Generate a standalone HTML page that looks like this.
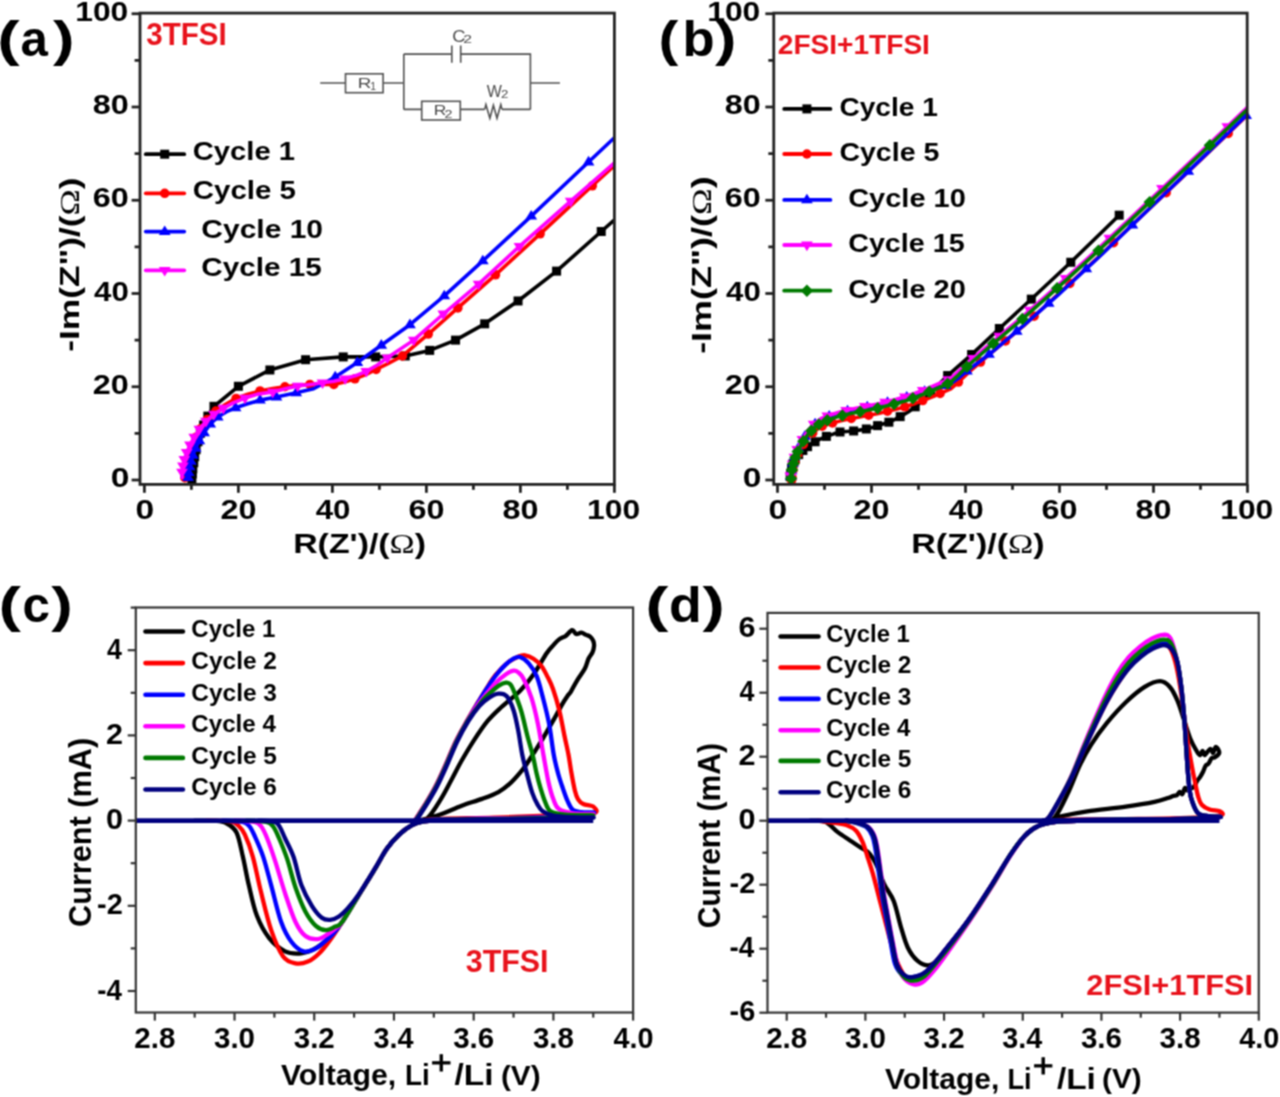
<!DOCTYPE html>
<html><head><meta charset="utf-8"><title>EIS and CV</title>
<style>html,body{margin:0;padding:0;background:#fff;width:1280px;height:1097px;overflow:hidden}
text{font-family:"Liberation Sans",sans-serif}</style></head>
<body>
<svg width="1280" height="1097" viewBox="0 0 1280 1097" style="display:block">
<defs><filter id="soft" x="0" y="0" width="1280" height="1097" filterUnits="userSpaceOnUse" color-interpolation-filters="sRGB"><feConvolveMatrix order="3" kernelMatrix="1 2 1 2 4 2 1 2 1" divisor="16" edgeMode="duplicate"/></filter></defs>
<g filter="url(#soft)">
<rect width="1280" height="1097" fill="#ffffff"/>
<clipPath id="cA"><rect x="140" y="13.1" width="474.4" height="471.3"/></clipPath>
<polyline points="191.87,478.6 192.34,473.94 192.81,468.81 193.75,462.75 194.69,456.69 196.1,449.69 197.98,441.77 200.33,433.38 203.62,424.98 207.85,416.12 213.96,406.33 238.4,386.28 269.89,369.97 305.61,359.71 343.21,356.91 375.64,356.91 405.25,355.98 429.69,350.38 455.54,340.12 484.68,323.81 518.05,300.96 556.59,271.12 601.24,231.49 642.6,195.12" fill="none" stroke="#000000" stroke-width="3.6" stroke-linejoin="round" stroke-linecap="round" clip-path="url(#cA)"/>
<rect x="187.37" y="474.1" width="9" height="9" fill="#000000"/>
<rect x="187.84" y="469.44" width="9" height="9" fill="#000000"/>
<rect x="188.31" y="464.31" width="9" height="9" fill="#000000"/>
<rect x="189.25" y="458.25" width="9" height="9" fill="#000000"/>
<rect x="190.19" y="452.19" width="9" height="9" fill="#000000"/>
<rect x="191.6" y="445.19" width="9" height="9" fill="#000000"/>
<rect x="193.48" y="437.27" width="9" height="9" fill="#000000"/>
<rect x="195.83" y="428.88" width="9" height="9" fill="#000000"/>
<rect x="199.12" y="420.48" width="9" height="9" fill="#000000"/>
<rect x="203.35" y="411.62" width="9" height="9" fill="#000000"/>
<rect x="209.46" y="401.83" width="9" height="9" fill="#000000"/>
<rect x="233.9" y="381.78" width="9" height="9" fill="#000000"/>
<rect x="265.39" y="365.47" width="9" height="9" fill="#000000"/>
<rect x="301.11" y="355.21" width="9" height="9" fill="#000000"/>
<rect x="338.71" y="352.41" width="9" height="9" fill="#000000"/>
<rect x="371.14" y="352.41" width="9" height="9" fill="#000000"/>
<rect x="400.75" y="351.48" width="9" height="9" fill="#000000"/>
<rect x="425.19" y="345.88" width="9" height="9" fill="#000000"/>
<rect x="451.04" y="335.62" width="9" height="9" fill="#000000"/>
<rect x="480.18" y="319.31" width="9" height="9" fill="#000000"/>
<rect x="513.55" y="296.46" width="9" height="9" fill="#000000"/>
<rect x="552.09" y="266.62" width="9" height="9" fill="#000000"/>
<rect x="596.74" y="226.99" width="9" height="9" fill="#000000"/>
<polyline points="184.82,477.67 185.29,472.54 186.23,466.48 187.64,459.95 189.52,452.96 192.34,445.5 196.1,437.11 200.8,428.71 207.38,419.39 215.84,411 225.24,404.47 236.05,398.41 247.8,394.21 260.02,390.95 272.71,388.62 284.93,386.75 297.62,385.35 309.84,384.42 322.06,384.42 333.81,384.42 344.62,382.09 354.96,378.82 365.77,374.63 376.11,369.5 388.33,363.44 402.43,355.98 428.28,334.06 457.89,307.95 495.49,274.85 540.14,233.82 592.31,185.8 642.6,139.64" fill="none" stroke="#ff0000" stroke-width="3.6" stroke-linejoin="round" stroke-linecap="round" clip-path="url(#cA)"/>
<circle cx="184.82" cy="477.67" r="4.73" fill="#ff0000"/>
<circle cx="185.29" cy="472.54" r="4.73" fill="#ff0000"/>
<circle cx="186.23" cy="466.48" r="4.73" fill="#ff0000"/>
<circle cx="187.64" cy="459.95" r="4.73" fill="#ff0000"/>
<circle cx="189.52" cy="452.96" r="4.73" fill="#ff0000"/>
<circle cx="192.34" cy="445.5" r="4.73" fill="#ff0000"/>
<circle cx="196.1" cy="437.11" r="4.73" fill="#ff0000"/>
<circle cx="200.8" cy="428.71" r="4.73" fill="#ff0000"/>
<circle cx="207.38" cy="419.39" r="4.73" fill="#ff0000"/>
<circle cx="215.84" cy="411" r="4.73" fill="#ff0000"/>
<circle cx="236.05" cy="398.41" r="4.73" fill="#ff0000"/>
<circle cx="260.02" cy="390.95" r="4.73" fill="#ff0000"/>
<circle cx="284.93" cy="386.75" r="4.73" fill="#ff0000"/>
<circle cx="309.84" cy="384.42" r="4.73" fill="#ff0000"/>
<circle cx="333.81" cy="384.42" r="4.73" fill="#ff0000"/>
<circle cx="354.96" cy="378.82" r="4.73" fill="#ff0000"/>
<circle cx="376.11" cy="369.5" r="4.73" fill="#ff0000"/>
<circle cx="402.43" cy="355.98" r="4.73" fill="#ff0000"/>
<circle cx="428.28" cy="334.06" r="4.73" fill="#ff0000"/>
<circle cx="457.89" cy="307.95" r="4.73" fill="#ff0000"/>
<circle cx="495.49" cy="274.85" r="4.73" fill="#ff0000"/>
<circle cx="540.14" cy="233.82" r="4.73" fill="#ff0000"/>
<circle cx="592.31" cy="185.8" r="4.73" fill="#ff0000"/>
<polyline points="188.11,477.67 188.58,472.54 189.52,466.94 190.93,461.35 192.81,455.29 195.63,448.3 199.39,440.83 204.09,432.72 210.2,424.05 217.72,417.06 226.18,411.93 235.58,407.73 246.86,404 260.02,400.12 276.47,397.09 296.21,392.75 313.6,388.73 335.22,376.96 357.31,362.5 381.28,345.25 409.95,324.74 444.26,295.83 482.8,260.86 531.21,216.1 588.55,162.02 642.6,111.2" fill="none" stroke="#0000ff" stroke-width="3.6" stroke-linejoin="round" stroke-linecap="round" clip-path="url(#cA)"/>
<polygon points="188.11,471.47 182.22,481.08 194,481.08" fill="#0000ff"/>
<polygon points="188.58,466.34 182.69,475.95 194.47,475.95" fill="#0000ff"/>
<polygon points="189.52,460.75 183.63,470.36 195.41,470.36" fill="#0000ff"/>
<polygon points="190.93,455.15 185.04,464.76 196.82,464.76" fill="#0000ff"/>
<polygon points="192.81,449.09 186.92,458.7 198.7,458.7" fill="#0000ff"/>
<polygon points="195.63,442.1 189.74,451.71 201.52,451.71" fill="#0000ff"/>
<polygon points="199.39,434.63 193.5,444.25 205.28,444.25" fill="#0000ff"/>
<polygon points="204.09,426.52 198.2,436.13 209.98,436.13" fill="#0000ff"/>
<polygon points="210.2,417.85 204.31,427.46 216.09,427.46" fill="#0000ff"/>
<polygon points="217.72,410.86 211.83,420.47 223.61,420.47" fill="#0000ff"/>
<polygon points="235.58,401.53 229.69,411.14 241.47,411.14" fill="#0000ff"/>
<polygon points="260.02,393.92 254.13,403.53 265.91,403.53" fill="#0000ff"/>
<polygon points="276.47,390.89 270.58,400.5 282.36,400.5" fill="#0000ff"/>
<polygon points="296.21,386.55 290.32,396.16 302.1,396.16" fill="#0000ff"/>
<polygon points="335.22,370.76 329.33,380.37 341.11,380.37" fill="#0000ff"/>
<polygon points="357.31,356.31 351.42,365.92 363.2,365.92" fill="#0000ff"/>
<polygon points="381.28,339.05 375.39,348.66 387.17,348.66" fill="#0000ff"/>
<polygon points="409.95,318.54 404.06,328.15 415.84,328.15" fill="#0000ff"/>
<polygon points="444.26,289.63 438.37,299.24 450.15,299.24" fill="#0000ff"/>
<polygon points="482.8,254.66 476.91,264.27 488.69,264.27" fill="#0000ff"/>
<polygon points="531.21,209.9 525.32,219.51 537.1,219.51" fill="#0000ff"/>
<polygon points="588.55,155.82 582.66,165.43 594.44,165.43" fill="#0000ff"/>
<polyline points="182,477.67 182,472.07 182.94,466.01 184.35,459.49 186.7,452.49 189.99,445.03 194.22,437.11 199.39,429.18 205.97,421.25 213.96,414.26 223.36,408.2 233.7,402.6 244.98,398.06 257.67,394.1 272.71,392.05 285.4,388.85 297.62,386.05 310.31,384.5 322.53,382.8 333.81,381.16 345.09,378.82 355.9,375.56 366.24,371.36 377.05,365.3 387.39,357.84 413.71,340.12 443.32,314.01 478.57,284.18 519.46,246.41 570.69,201.18 642.6,138.24" fill="none" stroke="#ff00ff" stroke-width="3.6" stroke-linejoin="round" stroke-linecap="round" clip-path="url(#cA)"/>
<polygon points="182,478.27 176.11,468.66 187.89,468.66" fill="#ff00ff"/>
<polygon points="182.94,472.21 177.05,462.6 188.83,462.6" fill="#ff00ff"/>
<polygon points="184.35,465.69 178.46,456.07 190.24,456.07" fill="#ff00ff"/>
<polygon points="186.7,458.69 180.81,449.08 192.59,449.08" fill="#ff00ff"/>
<polygon points="189.99,451.23 184.1,441.62 195.88,441.62" fill="#ff00ff"/>
<polygon points="194.22,443.31 188.33,433.69 200.11,433.69" fill="#ff00ff"/>
<polygon points="199.39,435.38 193.5,425.77 205.28,425.77" fill="#ff00ff"/>
<polygon points="205.97,427.45 200.08,417.84 211.86,417.84" fill="#ff00ff"/>
<polygon points="213.96,420.46 208.07,410.85 219.85,410.85" fill="#ff00ff"/>
<polygon points="223.36,414.4 217.47,404.79 229.25,404.79" fill="#ff00ff"/>
<polygon points="244.98,404.26 239.09,394.65 250.87,394.65" fill="#ff00ff"/>
<polygon points="272.71,398.25 266.82,388.64 278.6,388.64" fill="#ff00ff"/>
<polygon points="297.62,392.25 291.73,382.64 303.51,382.64" fill="#ff00ff"/>
<polygon points="322.53,389 316.64,379.39 328.42,379.39" fill="#ff00ff"/>
<polygon points="345.09,385.02 339.2,375.41 350.98,375.41" fill="#ff00ff"/>
<polygon points="366.24,377.56 360.35,367.95 372.13,367.95" fill="#ff00ff"/>
<polygon points="387.39,364.04 381.5,354.43 393.28,354.43" fill="#ff00ff"/>
<polygon points="413.71,346.32 407.82,336.71 419.6,336.71" fill="#ff00ff"/>
<polygon points="443.32,320.21 437.43,310.6 449.21,310.6" fill="#ff00ff"/>
<polygon points="478.57,290.38 472.68,280.76 484.46,280.76" fill="#ff00ff"/>
<polygon points="519.46,252.61 513.57,243 525.35,243" fill="#ff00ff"/>
<polygon points="570.69,207.38 564.8,197.77 576.58,197.77" fill="#ff00ff"/>
<rect x="140" y="13.1" width="474.4" height="471.3" fill="none" stroke="#222222" stroke-width="2.8"/>
<line x1="144.4" y1="484.4" x2="144.4" y2="492.8" stroke="#222222" stroke-width="2.8" stroke-linecap="butt"/>
<line x1="131.6" y1="480" x2="140" y2="480" stroke="#222222" stroke-width="2.8" stroke-linecap="butt"/>
<line x1="191.4" y1="484.4" x2="191.4" y2="489.8" stroke="#222222" stroke-width="2.8" stroke-linecap="butt"/>
<line x1="134.6" y1="433.38" x2="140" y2="433.38" stroke="#222222" stroke-width="2.8" stroke-linecap="butt"/>
<line x1="238.4" y1="484.4" x2="238.4" y2="492.8" stroke="#222222" stroke-width="2.8" stroke-linecap="butt"/>
<line x1="131.6" y1="386.75" x2="140" y2="386.75" stroke="#222222" stroke-width="2.8" stroke-linecap="butt"/>
<line x1="285.4" y1="484.4" x2="285.4" y2="489.8" stroke="#222222" stroke-width="2.8" stroke-linecap="butt"/>
<line x1="134.6" y1="340.12" x2="140" y2="340.12" stroke="#222222" stroke-width="2.8" stroke-linecap="butt"/>
<line x1="332.4" y1="484.4" x2="332.4" y2="492.8" stroke="#222222" stroke-width="2.8" stroke-linecap="butt"/>
<line x1="131.6" y1="293.5" x2="140" y2="293.5" stroke="#222222" stroke-width="2.8" stroke-linecap="butt"/>
<line x1="379.4" y1="484.4" x2="379.4" y2="489.8" stroke="#222222" stroke-width="2.8" stroke-linecap="butt"/>
<line x1="134.6" y1="246.88" x2="140" y2="246.88" stroke="#222222" stroke-width="2.8" stroke-linecap="butt"/>
<line x1="426.4" y1="484.4" x2="426.4" y2="492.8" stroke="#222222" stroke-width="2.8" stroke-linecap="butt"/>
<line x1="131.6" y1="200.25" x2="140" y2="200.25" stroke="#222222" stroke-width="2.8" stroke-linecap="butt"/>
<line x1="473.4" y1="484.4" x2="473.4" y2="489.8" stroke="#222222" stroke-width="2.8" stroke-linecap="butt"/>
<line x1="134.6" y1="153.62" x2="140" y2="153.62" stroke="#222222" stroke-width="2.8" stroke-linecap="butt"/>
<line x1="520.4" y1="484.4" x2="520.4" y2="492.8" stroke="#222222" stroke-width="2.8" stroke-linecap="butt"/>
<line x1="131.6" y1="107" x2="140" y2="107" stroke="#222222" stroke-width="2.8" stroke-linecap="butt"/>
<line x1="567.4" y1="484.4" x2="567.4" y2="489.8" stroke="#222222" stroke-width="2.8" stroke-linecap="butt"/>
<line x1="134.6" y1="60.38" x2="140" y2="60.38" stroke="#222222" stroke-width="2.8" stroke-linecap="butt"/>
<line x1="614.4" y1="484.4" x2="614.4" y2="492.8" stroke="#222222" stroke-width="2.8" stroke-linecap="butt"/>
<line x1="131.6" y1="13.75" x2="140" y2="13.75" stroke="#222222" stroke-width="2.8" stroke-linecap="butt"/>
<clipPath id="cB"><rect x="773.75" y="13.1" width="473.45" height="471.3"/></clipPath>
<polyline points="790.19,476.74 791.13,469.74 793.01,463.68 795.83,458.09 799.59,453.42 804.76,448.76 810.4,444.56 817.45,440.37 826.85,436.17 833.9,433.84 840.01,431.98 846.59,431.51 853.17,431.04 859.28,430.11 865.39,429.18 871.5,427.78 876.67,425.92 882.78,424.05 888.89,422.19 895,419.39 901.11,416.12 908.16,411.93 915.21,406.8 930.25,393.28 947.64,375.56 972.08,354.11 998.87,328.94 1030.36,300.03 1070.78,262.26 1119.19,215.17" fill="none" stroke="#000000" stroke-width="3.6" stroke-linejoin="round" stroke-linecap="round" clip-path="url(#cB)"/>
<rect x="785.69" y="472.24" width="9" height="9" fill="#000000"/>
<rect x="786.16" y="468.74" width="9" height="9" fill="#000000"/>
<rect x="787.1" y="463.73" width="9" height="9" fill="#000000"/>
<rect x="788.51" y="459.18" width="9" height="9" fill="#000000"/>
<rect x="790.86" y="454.52" width="9" height="9" fill="#000000"/>
<rect x="794.15" y="450.09" width="9" height="9" fill="#000000"/>
<rect x="798.38" y="445.96" width="9" height="9" fill="#000000"/>
<rect x="803.08" y="442.16" width="9" height="9" fill="#000000"/>
<rect x="810.6" y="437.27" width="9" height="9" fill="#000000"/>
<rect x="821.88" y="431.88" width="9" height="9" fill="#000000"/>
<rect x="835.51" y="427.48" width="9" height="9" fill="#000000"/>
<rect x="849.14" y="426.47" width="9" height="9" fill="#000000"/>
<rect x="861.83" y="424.46" width="9" height="9" fill="#000000"/>
<rect x="873.11" y="421.13" width="9" height="9" fill="#000000"/>
<rect x="884.39" y="417.69" width="9" height="9" fill="#000000"/>
<rect x="895.67" y="412.13" width="9" height="9" fill="#000000"/>
<rect x="910.71" y="402.3" width="9" height="9" fill="#000000"/>
<rect x="926.22" y="388.3" width="9" height="9" fill="#000000"/>
<rect x="943.14" y="371.06" width="9" height="9" fill="#000000"/>
<rect x="967.11" y="350.02" width="9" height="9" fill="#000000"/>
<rect x="994.84" y="324" width="9" height="9" fill="#000000"/>
<rect x="1026.8" y="294.65" width="9" height="9" fill="#000000"/>
<rect x="1066.28" y="257.76" width="9" height="9" fill="#000000"/>
<rect x="1114.69" y="210.67" width="9" height="9" fill="#000000"/>
<polyline points="791.84,480.21 792.3,474.64 793.25,468.62 795.12,461.72 797.95,454.4 803.12,444.87 808.75,436.83 814.87,430.81 821.91,426.26 831.32,423.31 840.72,420.87 850.12,418.66 859.51,416.91 868.91,415.17 878.32,413.43 887.72,411.22 897.12,409.01 906.51,406.33 915.91,403.19 925.32,399.58 934.25,395.97 942.71,392.35 950.7,388.77 959.62,381.02 968.56,372.34 980.77,361.86 993,351.38 1023.55,325.83 1058.33,294.02 1099.22,256.43 1150.45,207.64 1210.61,150.4 1276.4,87.06" fill="none" stroke="#ff0000" stroke-width="3.6" stroke-linejoin="round" stroke-linecap="round" clip-path="url(#cB)"/>
<circle cx="791.6" cy="480.21" r="4.73" fill="#ff0000"/>
<circle cx="792.07" cy="477.42" r="4.73" fill="#ff0000"/>
<circle cx="793.01" cy="470.13" r="4.73" fill="#ff0000"/>
<circle cx="794.89" cy="462.59" r="4.73" fill="#ff0000"/>
<circle cx="797.71" cy="455.01" r="4.73" fill="#ff0000"/>
<circle cx="803.35" cy="444.53" r="4.73" fill="#ff0000"/>
<circle cx="812.75" cy="432.9" r="4.73" fill="#ff0000"/>
<circle cx="822.15" cy="426.19" r="4.73" fill="#ff0000"/>
<circle cx="832.49" cy="423.01" r="4.73" fill="#ff0000"/>
<circle cx="851.29" cy="418.44" r="4.73" fill="#ff0000"/>
<circle cx="868.68" cy="415.21" r="4.73" fill="#ff0000"/>
<circle cx="887.48" cy="411.27" r="4.73" fill="#ff0000"/>
<circle cx="904.87" cy="406.8" r="4.73" fill="#ff0000"/>
<circle cx="922.73" cy="400.57" r="4.73" fill="#ff0000"/>
<circle cx="940.12" cy="393.45" r="4.73" fill="#ff0000"/>
<circle cx="958.45" cy="382.04" r="4.73" fill="#ff0000"/>
<circle cx="980.54" cy="362.06" r="4.73" fill="#ff0000"/>
<circle cx="1005.45" cy="340.96" r="4.73" fill="#ff0000"/>
<circle cx="1034.12" cy="316.16" r="4.73" fill="#ff0000"/>
<circle cx="1069.84" cy="283.44" r="4.73" fill="#ff0000"/>
<circle cx="1113.55" cy="242.78" r="4.73" fill="#ff0000"/>
<circle cx="1166.19" cy="192.66" r="4.73" fill="#ff0000"/>
<circle cx="1228.23" cy="133.43" r="4.73" fill="#ff0000"/>
<polyline points="791.13,476.53 791.6,470.91 792.54,464.8 794.42,457.71 797.24,450.11 802.41,440.07 808.05,431.39 814.16,424.56 821.21,419.39 830.61,415.66 840.01,412.86 849.41,410.53 858.81,408.66 868.21,406.8 877.61,404.93 887.01,402.6 896.41,400.27 905.81,397.47 915.21,394.21 924.61,391.46 933.54,389.17 942,386.81 949.99,384.37 958.92,377.82 967.85,370.23 980.07,361.24 992.29,351.78 1022.84,326.14 1057.62,295.37 1098.51,257.52 1149.74,208.32 1209.9,150.6 1275.7,86.75" fill="none" stroke="#0000ff" stroke-width="3.6" stroke-linejoin="round" stroke-linecap="round" clip-path="url(#cB)"/>
<polygon points="790.89,470.33 785,479.94 796.78,479.94" fill="#0000ff"/>
<polygon points="791.6,464.71 785.71,474.32 797.49,474.32" fill="#0000ff"/>
<polygon points="793.01,456.83 787.12,466.44 798.9,466.44" fill="#0000ff"/>
<polygon points="794.89,450.25 789,459.86 800.78,459.86" fill="#0000ff"/>
<polygon points="798.18,442.09 792.29,451.7 804.07,451.7" fill="#0000ff"/>
<polygon points="804.76,430.25 798.87,439.86 810.65,439.86" fill="#0000ff"/>
<polygon points="815.1,417.67 809.21,427.28 820.99,427.28" fill="#0000ff"/>
<polygon points="829.2,410.02 823.31,419.63 835.09,419.63" fill="#0000ff"/>
<polygon points="847.53,404.8 841.64,414.41 853.42,414.41" fill="#0000ff"/>
<polygon points="867.27,400.79 861.38,410.4 873.16,410.4" fill="#0000ff"/>
<polygon points="887.48,396.29 881.59,405.9 893.37,405.9" fill="#0000ff"/>
<polygon points="906.75,390.95 900.86,400.56 912.64,400.56" fill="#0000ff"/>
<polygon points="924.61,385.26 918.72,394.87 930.5,394.87" fill="#0000ff"/>
<polygon points="945.76,379.46 939.87,389.07 951.65,389.07" fill="#0000ff"/>
<polygon points="966.91,364.83 961.02,374.44 972.8,374.44" fill="#0000ff"/>
<polygon points="989,348.13 983.11,357.74 994.89,357.74" fill="#0000ff"/>
<polygon points="1016.73,325.07 1010.84,334.68 1022.62,334.68" fill="#0000ff"/>
<polygon points="1048.69,297.07 1042.8,306.68 1054.58,306.68" fill="#0000ff"/>
<polygon points="1086.29,262.63 1080.4,272.24 1092.18,272.24" fill="#0000ff"/>
<polygon points="1132.35,218.82 1126.46,228.43 1138.24,228.43" fill="#0000ff"/>
<polygon points="1188.28,165.15 1182.39,174.76 1194.17,174.76" fill="#0000ff"/>
<polygon points="1246.09,109.28 1240.2,118.89 1251.98,118.89" fill="#0000ff"/>
<polyline points="791.13,475.89 791.6,470.27 792.54,464.15 794.42,457.04 797.24,449.4 802.41,439.29 808.05,430.55 814.16,423.64 821.21,418.45 830.61,414.73 840.01,411.93 849.41,409.6 858.81,407.73 868.21,405.87 877.61,404 887.01,401.67 896.41,399.34 905.81,396.54 915.21,393.28 924.61,389.55 933.54,385.82 942,382.26 949.99,378.82 958.92,371.21 967.85,362.67 980.07,352.39 992.29,342 1022.84,316.4 1057.62,285.68 1098.51,248.44 1149.74,200.03 1209.9,143.24 1275.7,80.4" fill="none" stroke="#ff00ff" stroke-width="3.6" stroke-linejoin="round" stroke-linecap="round" clip-path="url(#cB)"/>
<polygon points="790.42,482.09 784.53,472.48 796.31,472.48" fill="#ff00ff"/>
<polygon points="791.13,482.09 785.24,472.48 797.02,472.48" fill="#ff00ff"/>
<polygon points="792.54,470.35 786.65,460.74 798.43,460.74" fill="#ff00ff"/>
<polygon points="794.42,463.24 788.53,453.63 800.31,453.63" fill="#ff00ff"/>
<polygon points="797.24,455.6 791.35,445.99 803.13,445.99" fill="#ff00ff"/>
<polygon points="802.41,445.49 796.52,435.88 808.3,435.88" fill="#ff00ff"/>
<polygon points="813.69,430.37 807.8,420.76 819.58,420.76" fill="#ff00ff"/>
<polygon points="827.32,422.23 821.43,412.62 833.21,412.62" fill="#ff00ff"/>
<polygon points="846.12,416.61 840.23,407 852.01,407" fill="#ff00ff"/>
<polygon points="864.92,412.72 859.03,403.11 870.81,403.11" fill="#ff00ff"/>
<polygon points="885.13,408.34 879.24,398.73 891.02,398.73" fill="#ff00ff"/>
<polygon points="904.87,403.02 898.98,393.41 910.76,393.41" fill="#ff00ff"/>
<polygon points="922.73,396.49 916.84,386.88 928.62,386.88" fill="#ff00ff"/>
<polygon points="948.11,385.83 942.22,376.22 954,376.22" fill="#ff00ff"/>
<polygon points="973.02,364.52 967.13,354.91 978.91,354.91" fill="#ff00ff"/>
<polygon points="999.34,342.29 993.45,332.68 1005.23,332.68" fill="#ff00ff"/>
<polygon points="1029.89,316.37 1024,306.76 1035.78,306.76" fill="#ff00ff"/>
<polygon points="1065.61,284.6 1059.72,274.99 1071.5,274.99" fill="#ff00ff"/>
<polygon points="1109.32,244.43 1103.43,234.82 1115.21,234.82" fill="#ff00ff"/>
<polygon points="1161.96,194.69 1156.07,185.08 1167.85,185.08" fill="#ff00ff"/>
<polygon points="1227.29,132.83 1221.4,123.22 1233.18,123.22" fill="#ff00ff"/>
<polyline points="791.13,478.6 791.6,473.01 792.54,466.94 794.42,459.95 797.24,452.49 802.41,442.7 808.05,434.31 814.16,427.78 821.21,422.65 830.61,418.92 840.01,416.12 849.41,413.79 858.81,411.93 868.21,410.06 877.61,408.2 887.01,405.87 896.41,403.54 905.81,400.74 915.21,397.47 924.61,393.74 933.54,390.01 942,386.28 949.99,382.55 958.92,374.63 967.85,365.77 980.07,355.05 992.29,344.32 1022.84,318.68 1057.62,287.9 1098.51,250.61 1149.74,202.12 1209.9,145.23 1275.7,82.29" fill="none" stroke="#007a00" stroke-width="3.6" stroke-linejoin="round" stroke-linecap="round" clip-path="url(#cB)"/>
<polygon points="791.13,472.4 797.33,478.6 791.13,484.8 784.93,478.6" fill="#007a00"/>
<polygon points="792.07,463.78 798.27,469.98 792.07,476.18 785.87,469.98" fill="#007a00"/>
<polygon points="793.48,457.25 799.68,463.45 793.48,469.65 787.28,463.45" fill="#007a00"/>
<polygon points="795.36,451.26 801.56,457.46 795.36,463.66 789.16,457.46" fill="#007a00"/>
<polygon points="797.71,445.4 803.91,451.6 797.71,457.8 791.51,451.6" fill="#007a00"/>
<polygon points="803.35,435.1 809.55,441.3 803.35,447.5 797.15,441.3" fill="#007a00"/>
<polygon points="811.34,424.59 817.54,430.79 811.34,436.99 805.14,430.79" fill="#007a00"/>
<polygon points="818.86,418.16 825.06,424.36 818.86,430.56 812.66,424.36" fill="#007a00"/>
<polygon points="827.32,414.03 833.52,420.23 827.32,426.43 821.12,420.23" fill="#007a00"/>
<polygon points="842.36,409.34 848.56,415.54 842.36,421.74 836.16,415.54" fill="#007a00"/>
<polygon points="860.22,405.45 866.42,411.65 860.22,417.85 854.02,411.65" fill="#007a00"/>
<polygon points="877.61,402 883.81,408.2 877.61,414.4 871.41,408.2" fill="#007a00"/>
<polygon points="894.06,397.92 900.26,404.12 894.06,410.32 887.86,404.12" fill="#007a00"/>
<polygon points="912.86,392.09 919.06,398.29 912.86,404.49 906.66,398.29" fill="#007a00"/>
<polygon points="929.31,385.58 935.51,391.78 929.31,397.98 923.11,391.78" fill="#007a00"/>
<polygon points="947.64,377.45 953.84,383.65 947.64,389.85 941.44,383.65" fill="#007a00"/>
<polygon points="966.91,360.5 973.11,366.7 966.91,372.9 960.71,366.7" fill="#007a00"/>
<polygon points="993.23,337.33 999.43,343.53 993.23,349.73 987.03,343.53" fill="#007a00"/>
<polygon points="1022.37,312.87 1028.57,319.07 1022.37,325.27 1016.17,319.07" fill="#007a00"/>
<polygon points="1057.15,282.12 1063.35,288.32 1057.15,294.52 1050.95,288.32" fill="#007a00"/>
<polygon points="1098.51,244.41 1104.71,250.61 1098.51,256.81 1092.31,250.61" fill="#007a00"/>
<polygon points="1149.74,195.92 1155.94,202.12 1149.74,208.31 1143.54,202.12" fill="#007a00"/>
<polygon points="1209.9,139.03 1216.1,145.23 1209.9,151.43 1203.7,145.23" fill="#007a00"/>
<rect x="773.75" y="13.1" width="473.45" height="471.3" fill="none" stroke="#222222" stroke-width="2.8"/>
<line x1="777.5" y1="484.4" x2="777.5" y2="492.8" stroke="#222222" stroke-width="2.8" stroke-linecap="butt"/>
<line x1="765.35" y1="480" x2="773.75" y2="480" stroke="#222222" stroke-width="2.8" stroke-linecap="butt"/>
<line x1="824.5" y1="484.4" x2="824.5" y2="489.8" stroke="#222222" stroke-width="2.8" stroke-linecap="butt"/>
<line x1="768.35" y1="433.38" x2="773.75" y2="433.38" stroke="#222222" stroke-width="2.8" stroke-linecap="butt"/>
<line x1="871.5" y1="484.4" x2="871.5" y2="492.8" stroke="#222222" stroke-width="2.8" stroke-linecap="butt"/>
<line x1="765.35" y1="386.75" x2="773.75" y2="386.75" stroke="#222222" stroke-width="2.8" stroke-linecap="butt"/>
<line x1="918.5" y1="484.4" x2="918.5" y2="489.8" stroke="#222222" stroke-width="2.8" stroke-linecap="butt"/>
<line x1="768.35" y1="340.12" x2="773.75" y2="340.12" stroke="#222222" stroke-width="2.8" stroke-linecap="butt"/>
<line x1="965.5" y1="484.4" x2="965.5" y2="492.8" stroke="#222222" stroke-width="2.8" stroke-linecap="butt"/>
<line x1="765.35" y1="293.5" x2="773.75" y2="293.5" stroke="#222222" stroke-width="2.8" stroke-linecap="butt"/>
<line x1="1012.5" y1="484.4" x2="1012.5" y2="489.8" stroke="#222222" stroke-width="2.8" stroke-linecap="butt"/>
<line x1="768.35" y1="246.88" x2="773.75" y2="246.88" stroke="#222222" stroke-width="2.8" stroke-linecap="butt"/>
<line x1="1059.5" y1="484.4" x2="1059.5" y2="492.8" stroke="#222222" stroke-width="2.8" stroke-linecap="butt"/>
<line x1="765.35" y1="200.25" x2="773.75" y2="200.25" stroke="#222222" stroke-width="2.8" stroke-linecap="butt"/>
<line x1="1106.5" y1="484.4" x2="1106.5" y2="489.8" stroke="#222222" stroke-width="2.8" stroke-linecap="butt"/>
<line x1="768.35" y1="153.62" x2="773.75" y2="153.62" stroke="#222222" stroke-width="2.8" stroke-linecap="butt"/>
<line x1="1153.5" y1="484.4" x2="1153.5" y2="492.8" stroke="#222222" stroke-width="2.8" stroke-linecap="butt"/>
<line x1="765.35" y1="107" x2="773.75" y2="107" stroke="#222222" stroke-width="2.8" stroke-linecap="butt"/>
<line x1="1200.5" y1="484.4" x2="1200.5" y2="489.8" stroke="#222222" stroke-width="2.8" stroke-linecap="butt"/>
<line x1="768.35" y1="60.38" x2="773.75" y2="60.38" stroke="#222222" stroke-width="2.8" stroke-linecap="butt"/>
<line x1="1247.5" y1="484.4" x2="1247.5" y2="492.8" stroke="#222222" stroke-width="2.8" stroke-linecap="butt"/>
<line x1="765.35" y1="13.75" x2="773.75" y2="13.75" stroke="#222222" stroke-width="2.8" stroke-linecap="butt"/>
<clipPath id="cC"><rect x="135.8" y="607.5" width="497.3" height="405"/></clipPath>
<path d="M194.66,820.6 C197.98,820.64 209.34,820.39 214.59,820.81 C219.84,821.24 222.5,821.2 226.15,823.16 C229.8,825.11 233.72,826.92 236.51,832.53 C239.3,838.14 240.83,848.01 242.89,856.81 C244.95,865.61 246.54,875.55 248.87,885.35 C251.19,895.15 253.45,906.79 256.84,915.6 C260.23,924.4 264.48,932.21 269.2,938.18 C273.91,944.14 280.09,948.83 285.14,951.38 C290.19,953.94 294.97,953.73 299.49,953.51 C304.01,953.3 308.33,951.81 312.25,950.1 C316.17,948.4 319.55,946.06 323.01,943.29 C326.46,940.52 329.79,937.04 332.97,933.49 C336.16,929.94 337.89,928.31 342.14,921.99 C346.39,915.67 353.04,904.38 358.48,895.58 C363.93,886.77 370.11,876.97 374.83,869.16 C379.54,861.35 382.73,854.47 386.79,848.72 C390.84,842.97 395.02,838.56 399.14,834.66 C403.26,830.75 407.45,827.49 411.5,825.29 C415.55,823.09 418.41,822.23 423.46,821.45 C428.51,820.67 438.74,820.74 441.79,820.6" fill="none" stroke="#000000" stroke-width="4.3" stroke-linejoin="round" stroke-linecap="round" clip-path="url(#cC)"/>
<path d="M415.88,820.6 C417.81,820.17 423.26,821.66 427.44,818.04 C431.63,814.42 436.88,805.48 440.99,798.87 C445.11,792.27 448.7,784.82 452.16,778.43 C455.61,772.04 458.07,766.92 461.72,760.53 C465.38,754.14 469.76,746.69 474.08,740.09 C478.4,733.48 483.11,726.38 487.63,720.92 C492.15,715.45 495.8,712.25 501.18,707.28 C506.56,702.31 514.54,696.56 519.92,691.1 C525.3,685.63 529.02,680.8 533.47,674.48 C537.92,668.16 543.3,658.08 546.62,653.18 C549.95,648.28 551.27,647.43 553.4,645.09 C555.53,642.75 557.39,640.62 559.38,639.12 C561.37,637.63 563.23,637.63 565.36,636.14 C567.48,634.65 570.34,630.53 572.13,630.18 C573.93,629.82 574.59,633.59 576.12,634.01 C577.65,634.44 579.64,632.59 581.3,632.73 C582.96,632.88 584.62,634.23 586.09,634.86 C587.55,635.5 588.88,635.57 590.07,636.57 C591.27,637.56 592.6,639.27 593.26,640.83 C593.92,642.39 594.19,644.02 594.06,645.94 C593.92,647.86 593.39,650.2 592.46,652.33 C591.53,654.46 589.74,656.02 588.48,658.72 C587.21,661.42 586.75,664.97 584.89,668.52 C583.03,672.07 579.64,676.19 577.32,680.02 C574.99,683.85 572.6,688.82 570.94,691.52 C569.28,694.22 568.81,694.08 567.35,696.21 C565.89,698.34 564.56,700.18 562.17,704.3 C559.78,708.42 556.26,715.17 553,720.92 C549.75,726.67 545.83,733.48 542.64,738.81 C539.45,744.13 536.53,748.68 533.87,752.87 C531.21,757.05 529.02,760.61 526.69,763.94 C524.37,767.28 522.77,769.55 519.92,772.89 C517.06,776.23 513.14,780.77 509.55,783.96 C505.97,787.16 502.98,789.57 498.39,792.06 C493.81,794.54 488.16,796.6 482.05,798.87 C475.94,801.15 468.56,803.13 461.72,805.69 C454.88,808.25 447.64,811.87 440.99,814.21 C434.35,816.55 426.05,818.68 421.86,819.75 C417.68,820.81 416.88,820.46 415.88,820.6" fill="none" stroke="#000000" stroke-width="4.3" stroke-linejoin="round" stroke-linecap="round" clip-path="url(#cC)"/>
<path d="M414.69,820.6 C414.95,820.17 414.42,820.95 416.28,818.04 C418.14,815.13 422.66,808.39 425.85,803.13 C429.04,797.88 432.23,792.7 435.41,786.52 C438.6,780.34 441.59,773.6 444.98,766.07 C448.37,758.55 452.09,748.89 455.74,741.36 C459.4,733.84 463.32,727.24 466.9,720.92 C470.49,714.6 474.01,708.85 477.27,703.45 C480.52,698.05 483.38,693.3 486.44,688.54 C489.49,683.78 491.95,679.31 495.6,674.91 C499.26,670.51 504.57,665.18 508.36,662.13 C512.14,659.08 515.53,657.73 518.32,656.59 C521.11,655.45 522.57,654.96 525.1,655.31 C527.62,655.67 530.75,656.95 533.47,658.72 C536.19,660.5 539.12,662.98 541.44,665.96 C543.77,668.94 545.49,672.78 547.42,676.61 C549.35,680.45 551.01,683.29 553,688.97 C554.99,694.65 557.45,702.81 559.38,710.69 C561.31,718.57 563.03,728.87 564.56,736.25 C566.09,743.64 567.42,748.96 568.55,755 C569.68,761.03 570.27,766.5 571.34,772.46 C572.4,778.43 573.8,786.31 574.92,790.78 C576.05,795.25 576.72,797.1 578.11,799.3 C579.51,801.5 580.77,802.78 583.3,803.99 C585.82,805.19 591.6,804.98 593.26,806.54 C594.92,808.1 599.9,811.87 593.26,813.36 C586.62,814.85 570.01,814.78 553.4,815.49 C536.79,816.2 512.21,817.05 493.61,817.62 C475.01,818.19 454.41,818.4 441.79,818.9 C429.17,819.39 421.86,820.32 417.88,820.6" fill="none" stroke="#ff0000" stroke-width="4.3" stroke-linejoin="round" stroke-linecap="round" clip-path="url(#cC)"/>
<path d="M206.62,820.6 C210.6,820.74 225.22,820.6 230.53,821.45 C235.85,822.3 236.11,823.51 238.51,825.71 C240.9,827.91 242.49,829.48 244.88,834.66 C247.28,839.84 250.2,847.37 252.86,856.81 C255.51,866.25 257.77,879.1 260.83,891.32 C263.88,903.53 267.47,919.22 271.19,930.08 C274.91,940.94 279.1,950.96 283.15,956.49 C287.2,962.03 291.39,962.46 295.51,963.31 C299.62,964.16 303.94,963.24 307.86,961.61 C311.78,959.97 315.3,957.13 319.02,953.51 C322.74,949.89 326.33,945.13 330.18,939.88 C334.04,934.63 337.43,929.37 342.14,921.99 C346.86,914.6 353.04,904.38 358.48,895.58 C363.93,886.77 370.11,876.97 374.83,869.16 C379.54,861.35 382.73,854.47 386.79,848.72 C390.84,842.97 395.02,838.56 399.14,834.66 C403.26,830.75 407.45,827.49 411.5,825.29 C415.55,823.09 418.41,822.23 423.46,821.45 C428.51,820.67 438.74,820.74 441.79,820.6" fill="none" stroke="#ff0000" stroke-width="4.3" stroke-linejoin="round" stroke-linecap="round" clip-path="url(#cC)"/>
<path d="M415.09,820.6 C415.35,820.17 414.82,820.95 416.68,818.04 C418.54,815.13 423.06,808.39 426.25,803.13 C429.44,797.88 432.62,792.7 435.81,786.52 C439,780.34 441.99,773.6 445.38,766.07 C448.77,758.55 452.49,748.89 456.14,741.36 C459.8,733.84 463.72,727.24 467.3,720.92 C470.89,714.6 474.41,708.85 477.67,703.45 C480.92,698.05 483.84,693.15 486.83,688.54 C489.82,683.92 492.48,679.74 495.6,675.76 C498.73,671.78 502.58,667.52 505.57,664.68 C508.56,661.84 511.15,660 513.54,658.72 C515.93,657.44 517.39,656.24 519.92,657.02 C522.44,657.8 525.9,660.21 528.69,663.41 C531.48,666.6 534.33,670.65 536.66,676.19 C538.98,681.72 540.58,688.75 542.64,696.63 C544.7,704.51 547.16,713.75 549.02,723.47 C550.88,733.2 552.27,746.62 553.8,755 C555.33,763.37 556.66,768.13 558.18,773.74 C559.71,779.35 561.37,784.03 562.97,788.65 C564.56,793.26 566.09,797.88 567.75,801.43 C569.41,804.98 570.67,808.18 572.93,809.95 C575.19,811.73 577.91,811.58 581.3,812.08 C584.69,812.58 597.91,812.15 593.26,812.93 C588.61,813.71 570.01,815.84 553.4,816.77 C536.79,817.69 512.21,818.04 493.61,818.47 C475.01,818.9 454.41,818.97 441.79,819.32 C429.17,819.68 421.86,820.39 417.88,820.6" fill="none" stroke="#0000ff" stroke-width="4.3" stroke-linejoin="round" stroke-linecap="round" clip-path="url(#cC)"/>
<path d="M222.56,820.6 C225.88,820.81 238.04,820.96 242.49,821.88 C246.94,822.8 247.21,823.72 249.27,826.14 C251.33,828.55 252.52,831.25 254.85,836.36 C257.17,841.47 260.5,848.65 263.22,856.81 C265.94,864.98 268.2,874.49 271.19,885.35 C274.18,896.22 277.77,912.55 281.16,921.99 C284.54,931.43 287.8,937.11 291.52,942.01 C295.24,946.91 299.69,950.18 303.48,951.38 C307.26,952.59 310.79,950.81 314.24,949.25 C317.69,947.69 321.02,944.64 324.21,942.01 C327.39,939.38 330.38,936.83 333.37,933.49 C336.36,930.15 337.96,928.31 342.14,921.99 C346.33,915.67 353.04,904.38 358.48,895.58 C363.93,886.77 370.11,876.97 374.83,869.16 C379.54,861.35 382.73,854.47 386.79,848.72 C390.84,842.97 395.02,838.56 399.14,834.66 C403.26,830.75 407.45,827.49 411.5,825.29 C415.55,823.09 418.41,822.23 423.46,821.45 C428.51,820.67 438.74,820.74 441.79,820.6" fill="none" stroke="#0000ff" stroke-width="4.3" stroke-linejoin="round" stroke-linecap="round" clip-path="url(#cC)"/>
<path d="M415.09,820.6 C415.35,820.17 414.82,820.95 416.68,818.04 C418.54,815.13 423.06,808.39 426.25,803.13 C429.44,797.88 432.62,792.7 435.81,786.52 C439,780.34 441.99,773.6 445.38,766.07 C448.77,758.55 452.49,748.89 456.14,741.36 C459.8,733.84 463.72,727.02 467.3,720.92 C470.89,714.81 475.08,708.49 477.67,704.73 C480.26,700.97 480.92,700.68 482.85,698.34 C484.77,696 487.1,693.23 489.23,690.67 C491.35,688.11 492.88,685.7 495.6,683 C498.33,680.3 502.58,676.54 505.57,674.48 C508.56,672.42 511.41,671 513.54,670.65 C515.67,670.29 516.66,671 518.32,672.35 C519.98,673.7 521.31,674.48 523.51,678.74 C525.7,683 529.09,690.46 531.48,697.91 C533.87,705.37 535.86,713.96 537.85,723.47 C539.85,732.99 541.64,745.13 543.44,755 C545.23,764.87 546.96,775.3 548.62,782.69 C550.28,790.07 551.67,794.9 553.4,799.3 C555.13,803.7 555.66,806.76 558.98,809.1 C562.3,811.44 567.62,812.51 573.33,813.36 C579.04,814.21 596.58,813.57 593.26,814.21 C589.94,814.85 570.01,816.48 553.4,817.19 C536.79,817.9 512.21,818.12 493.61,818.47 C475.01,818.83 454.41,818.97 441.79,819.32 C429.17,819.68 421.86,820.39 417.88,820.6" fill="none" stroke="#ff00ff" stroke-width="4.3" stroke-linejoin="round" stroke-linecap="round" clip-path="url(#cC)"/>
<path d="M234.52,820.6 C237.84,820.81 250,820.88 254.45,821.88 C258.9,822.87 259.1,823.8 261.23,826.56 C263.35,829.33 264.88,832.74 267.21,838.49 C269.53,844.24 272.19,851.91 275.18,861.07 C278.17,870.23 281.75,883.29 285.14,893.45 C288.53,903.6 292.12,914.89 295.51,921.99 C298.89,929.09 301.75,933.21 305.47,936.05 C309.19,938.89 314.04,939.38 317.83,939.03 C321.61,938.67 325.14,935.76 328.19,933.92 C331.25,932.07 333.84,929.94 336.16,927.95 C338.49,925.96 338.42,927.38 342.14,921.99 C345.86,916.59 353.04,904.38 358.48,895.58 C363.93,886.77 370.11,876.97 374.83,869.16 C379.54,861.35 382.73,854.47 386.79,848.72 C390.84,842.97 395.02,838.56 399.14,834.66 C403.26,830.75 407.45,827.49 411.5,825.29 C415.55,823.09 418.41,822.23 423.46,821.45 C428.51,820.67 438.74,820.74 441.79,820.6" fill="none" stroke="#ff00ff" stroke-width="4.3" stroke-linejoin="round" stroke-linecap="round" clip-path="url(#cC)"/>
<path d="M415.48,820.6 C415.75,820.17 415.22,820.95 417.08,818.04 C418.94,815.13 423.46,808.39 426.65,803.13 C429.83,797.88 433.02,792.7 436.21,786.52 C439.4,780.34 442.39,773.6 445.78,766.07 C449.17,758.55 452.89,748.89 456.54,741.36 C460.19,733.84 464.38,726.38 467.7,720.92 C471.02,715.45 473.81,712.18 476.47,708.56 C479.13,704.94 481.12,702.03 483.65,699.19 C486.17,696.35 489.09,693.79 491.62,691.52 C494.14,689.25 496.4,687.05 498.79,685.56 C501.18,684.07 504.04,682.79 505.97,682.58 C507.89,682.36 509.09,683 510.35,684.28 C511.61,685.56 511.75,685.84 513.54,690.24 C515.33,694.65 518.79,703.02 521.11,710.69 C523.44,718.36 525.56,728.87 527.49,736.25 C529.42,743.64 531.14,748.75 532.67,755 C534.2,761.24 535.33,768.13 536.66,773.74 C537.99,779.35 539.18,783.82 540.64,788.65 C542.11,793.48 543.77,798.94 545.43,802.71 C547.09,806.47 547.29,809.24 550.61,811.23 C553.93,813.22 558.25,813.93 565.36,814.64 C572.47,815.35 595.25,814.99 593.26,815.49 C591.27,815.99 570.01,817.05 553.4,817.62 C536.79,818.19 512.21,818.54 493.61,818.9 C475.01,819.25 454.41,819.46 441.79,819.75 C429.17,820.03 421.86,820.46 417.88,820.6" fill="none" stroke="#007a00" stroke-width="4.3" stroke-linejoin="round" stroke-linecap="round" clip-path="url(#cC)"/>
<path d="M246.48,820.6 C249.8,820.81 261.96,820.88 266.41,821.88 C270.86,822.87 271.06,823.8 273.18,826.56 C275.31,829.33 276.84,833.1 279.16,838.49 C281.49,843.89 284.41,850.78 287.14,858.94 C289.86,867.11 292.45,878.68 295.51,887.48 C298.56,896.29 302.08,905.37 305.47,911.76 C308.86,918.15 312.45,922.77 315.83,925.82 C319.22,928.88 322.61,929.94 325.8,930.08 C328.99,930.22 332.24,928.02 334.97,926.67 C337.69,925.33 338.22,927.17 342.14,921.99 C346.06,916.81 353.04,904.38 358.48,895.58 C363.93,886.77 370.11,876.97 374.83,869.16 C379.54,861.35 382.73,854.47 386.79,848.72 C390.84,842.97 395.02,838.56 399.14,834.66 C403.26,830.75 407.45,827.49 411.5,825.29 C415.55,823.09 418.41,822.23 423.46,821.45 C428.51,820.67 438.74,820.74 441.79,820.6" fill="none" stroke="#007a00" stroke-width="4.3" stroke-linejoin="round" stroke-linecap="round" clip-path="url(#cC)"/>
<path d="M415.88,820.6 C416.22,820.17 415.95,820.95 417.88,818.04 C419.8,815.13 424.25,808.39 427.44,803.13 C430.63,797.88 433.82,792.7 437.01,786.52 C440.2,780.34 443.19,773.6 446.58,766.07 C449.96,758.55 453.68,748.89 457.34,741.36 C460.99,733.84 464.84,726.81 468.5,720.92 C472.15,715.02 475.87,709.84 479.26,706.01 C482.65,702.17 485.64,699.97 488.83,697.91 C492.02,695.85 495.4,693.94 498.39,693.65 C501.38,693.37 504.24,693.44 506.76,696.21 C509.29,698.98 511.61,704.44 513.54,710.27 C515.47,716.09 516.86,723.68 518.32,731.14 C519.78,738.6 520.78,747.54 522.31,755 C523.84,762.45 525.83,769.55 527.49,775.87 C529.15,782.19 530.61,788.15 532.27,792.91 C533.94,797.67 535.73,801.36 537.46,804.41 C539.18,807.47 539.98,809.38 542.64,811.23 C545.3,813.07 548.28,814.49 553.4,815.49 C558.52,816.48 566.69,816.84 573.33,817.19 C579.97,817.55 596.58,817.41 593.26,817.62 C589.94,817.83 570.01,818.19 553.4,818.47 C536.79,818.75 512.21,819.11 493.61,819.32 C475.01,819.53 454.41,819.54 441.79,819.75 C429.17,819.96 421.86,820.46 417.88,820.6" fill="none" stroke="#00007f" stroke-width="4.3" stroke-linejoin="round" stroke-linecap="round" clip-path="url(#cC)"/>
<path d="M258.44,820.6 C261.09,820.81 270.86,820.88 274.38,821.88 C277.9,822.87 277.77,823.8 279.56,826.56 C281.36,829.33 282.82,833.45 285.14,838.49 C287.47,843.53 290.79,849 293.51,856.81 C296.24,864.62 298.43,877.19 301.48,885.35 C304.54,893.52 308.46,900.4 311.85,905.8 C315.24,911.2 318.76,915.39 321.81,917.73 C324.87,920.07 327.33,920.07 330.18,919.86 C333.04,919.65 335.96,918.44 338.95,916.45 C341.94,914.46 344.87,911.55 348.12,907.93 C351.38,904.31 354.03,901.26 358.48,894.72 C362.94,888.19 370.11,876.41 374.83,868.74 C379.54,861.07 382.73,854.4 386.79,848.72 C390.84,843.04 395.02,838.56 399.14,834.66 C403.26,830.75 407.45,827.49 411.5,825.29 C415.55,823.09 418.41,822.23 423.46,821.45 C428.51,820.67 438.74,820.74 441.79,820.6" fill="none" stroke="#00007f" stroke-width="4.3" stroke-linejoin="round" stroke-linecap="round" clip-path="url(#cC)"/>
<line x1="135.8" y1="820.6" x2="593.26" y2="820.6" stroke="#00007f" stroke-width="4.8" stroke-linecap="butt"/>
<rect x="135.8" y="607.5" width="497.3" height="405" fill="none" stroke="#333333" stroke-width="2.2"/>
<line x1="154.8" y1="1012.5" x2="154.8" y2="1020.6" stroke="#333333" stroke-width="2.2" stroke-linecap="butt"/>
<line x1="194.66" y1="1012.5" x2="194.66" y2="1017.6" stroke="#333333" stroke-width="2.2" stroke-linecap="butt"/>
<line x1="234.52" y1="1012.5" x2="234.52" y2="1020.6" stroke="#333333" stroke-width="2.2" stroke-linecap="butt"/>
<line x1="274.38" y1="1012.5" x2="274.38" y2="1017.6" stroke="#333333" stroke-width="2.2" stroke-linecap="butt"/>
<line x1="314.24" y1="1012.5" x2="314.24" y2="1020.6" stroke="#333333" stroke-width="2.2" stroke-linecap="butt"/>
<line x1="354.1" y1="1012.5" x2="354.1" y2="1017.6" stroke="#333333" stroke-width="2.2" stroke-linecap="butt"/>
<line x1="393.96" y1="1012.5" x2="393.96" y2="1020.6" stroke="#333333" stroke-width="2.2" stroke-linecap="butt"/>
<line x1="433.82" y1="1012.5" x2="433.82" y2="1017.6" stroke="#333333" stroke-width="2.2" stroke-linecap="butt"/>
<line x1="473.68" y1="1012.5" x2="473.68" y2="1020.6" stroke="#333333" stroke-width="2.2" stroke-linecap="butt"/>
<line x1="513.54" y1="1012.5" x2="513.54" y2="1017.6" stroke="#333333" stroke-width="2.2" stroke-linecap="butt"/>
<line x1="553.4" y1="1012.5" x2="553.4" y2="1020.6" stroke="#333333" stroke-width="2.2" stroke-linecap="butt"/>
<line x1="593.26" y1="1012.5" x2="593.26" y2="1017.6" stroke="#333333" stroke-width="2.2" stroke-linecap="butt"/>
<line x1="633.12" y1="1012.5" x2="633.12" y2="1020.6" stroke="#333333" stroke-width="2.2" stroke-linecap="butt"/>
<line x1="127.7" y1="991" x2="135.8" y2="991" stroke="#333333" stroke-width="2.2" stroke-linecap="butt"/>
<line x1="130.7" y1="948.4" x2="135.8" y2="948.4" stroke="#333333" stroke-width="2.2" stroke-linecap="butt"/>
<line x1="127.7" y1="905.8" x2="135.8" y2="905.8" stroke="#333333" stroke-width="2.2" stroke-linecap="butt"/>
<line x1="130.7" y1="863.2" x2="135.8" y2="863.2" stroke="#333333" stroke-width="2.2" stroke-linecap="butt"/>
<line x1="127.7" y1="820.6" x2="135.8" y2="820.6" stroke="#333333" stroke-width="2.2" stroke-linecap="butt"/>
<line x1="130.7" y1="778" x2="135.8" y2="778" stroke="#333333" stroke-width="2.2" stroke-linecap="butt"/>
<line x1="127.7" y1="735.4" x2="135.8" y2="735.4" stroke="#333333" stroke-width="2.2" stroke-linecap="butt"/>
<line x1="130.7" y1="692.8" x2="135.8" y2="692.8" stroke="#333333" stroke-width="2.2" stroke-linecap="butt"/>
<line x1="127.7" y1="650.2" x2="135.8" y2="650.2" stroke="#333333" stroke-width="2.2" stroke-linecap="butt"/>
<line x1="130.7" y1="607.6" x2="135.8" y2="607.6" stroke="#333333" stroke-width="2.2" stroke-linecap="butt"/>
<clipPath id="cD"><rect x="767.5" y="612.9" width="491.25" height="399.7"/></clipPath>
<path d="M1044.38,820.7 C1046.15,820.11 1051,821.93 1055,817.18 C1059,812.43 1064.24,800.86 1068.37,792.22 C1072.51,783.58 1075.98,773.29 1079.78,765.34 C1083.59,757.39 1086.73,751.53 1091.19,744.54 C1095.65,737.55 1100.76,730.46 1106.53,723.42 C1112.3,716.38 1119.45,708.38 1125.81,702.3 C1132.17,696.22 1138.99,690.46 1144.69,686.94 C1150.4,683.42 1155.84,681.18 1160.04,681.18 C1164.23,681.18 1166.99,683.74 1169.87,686.94 C1172.76,690.14 1175.12,695.26 1177.35,700.38 C1179.58,705.5 1181.08,711.26 1183.25,717.66 C1185.41,724.06 1188.16,733.34 1190.33,738.78 C1192.49,744.22 1194.66,747.58 1196.23,750.3 C1197.8,753.02 1198.72,754.99 1199.77,755.1 C1200.82,755.21 1201.74,750.94 1202.52,750.94 C1203.31,750.94 1203.64,754.99 1204.49,755.1 C1205.34,755.21 1206.59,752.59 1207.64,751.58 C1208.69,750.57 1209.87,748.81 1210.79,749.02 C1211.7,749.23 1212.36,753.18 1213.15,752.86 C1213.93,752.54 1214.65,747.63 1215.51,747.1 C1216.36,746.57 1217.67,748.59 1218.26,749.66 C1218.85,750.73 1219.64,752.22 1219.05,753.5 C1218.46,754.78 1215.96,756.54 1214.72,757.34 C1213.47,758.14 1212.62,757.23 1211.57,758.3 C1210.52,759.37 1209.41,762.51 1208.42,763.74 C1207.44,764.97 1206.59,764.27 1205.67,765.66 C1204.75,767.05 1203.84,770.19 1202.92,772.06 C1202,773.93 1201.15,775.37 1200.16,776.86 C1199.18,778.35 1198,779.42 1197.02,781.02 C1196.03,782.62 1195.38,785.18 1194.26,786.46 C1193.15,787.74 1191.57,788.06 1190.33,788.7 C1189.08,789.34 1187.71,790.41 1186.79,790.3 C1185.87,790.19 1185.54,787.42 1184.82,788.06 C1184.1,788.7 1183.31,793.5 1182.46,794.14 C1181.61,794.78 1180.62,791.74 1179.71,791.9 C1178.79,792.06 1178.07,794.41 1176.95,795.1 C1175.84,795.79 1174.53,795.58 1173.02,796.06 C1171.51,796.54 1170.99,797.02 1167.9,797.98 C1164.82,798.94 1161.54,800.38 1154.53,801.82 C1147.51,803.26 1137.02,805.02 1125.81,806.62 C1114.6,808.22 1097.88,809.82 1087.26,811.42 C1076.64,813.02 1068.9,814.67 1062.08,816.22 C1055.26,817.77 1048.97,819.95 1046.34,820.7" fill="none" stroke="#000000" stroke-width="4.3" stroke-linejoin="round" stroke-linecap="round" clip-path="url(#cD)"/>
<path d="M810.3,820.7 C812.8,820.86 820.73,819.79 825.25,821.66 C829.78,823.53 833.38,828.81 837.45,831.9 C841.51,834.99 845.91,837.71 849.64,840.22 C853.38,842.73 856.59,844.75 859.87,846.94 C863.15,849.13 866.49,850.25 869.31,853.34 C872.13,856.43 874.3,860.33 876.79,865.5 C879.28,870.67 881.44,878.46 884.26,884.38 C887.08,890.3 890.95,893.98 893.7,901.02 C896.46,908.06 898.43,918.83 900.79,926.62 C903.15,934.41 905.11,942.09 907.87,947.74 C910.62,953.39 913.83,957.61 917.31,960.54 C920.78,963.47 925.24,965.45 928.72,965.34 C932.19,965.23 935.41,962.46 938.16,959.9 C940.91,957.34 940.13,956.7 945.24,949.98 C950.35,943.26 961.04,930.51 968.84,919.58 C976.65,908.65 985.04,895.31 992.05,884.38 C999.07,873.45 1005.43,862.14 1010.94,853.98 C1016.45,845.82 1020.45,840.11 1025.1,835.42 C1029.76,830.73 1033.43,828.11 1038.87,825.82 C1044.31,823.53 1050.61,822.51 1057.75,821.66 C1064.9,820.81 1077.75,820.86 1081.75,820.7" fill="none" stroke="#000000" stroke-width="4.3" stroke-linejoin="round" stroke-linecap="round" clip-path="url(#cD)"/>
<path d="M1043.2,820.7 C1044.18,820.11 1046.21,820.97 1049.1,817.18 C1051.98,813.39 1056.7,804.7 1060.51,797.98 C1064.31,791.26 1068.05,784.86 1071.91,776.86 C1075.78,768.86 1079.85,758.57 1083.72,749.98 C1087.59,741.39 1091.32,733.29 1095.13,725.34 C1098.93,717.39 1102.73,709.34 1106.53,702.3 C1110.34,695.26 1114.14,688.97 1117.94,683.1 C1121.75,677.23 1125.48,671.79 1129.35,667.1 C1133.22,662.41 1137.28,658.25 1141.15,654.94 C1145.02,651.63 1148.89,649.13 1152.56,647.26 C1156.23,645.39 1160.3,643.63 1163.18,643.74 C1166.07,643.85 1167.84,644.81 1169.87,647.9 C1171.9,650.99 1173.67,655.9 1175.38,662.3 C1177.08,668.7 1178.66,677.5 1180.1,686.3 C1181.54,695.1 1182.72,705.5 1184.03,715.1 C1185.35,724.7 1186.66,735.37 1187.97,743.9 C1189.28,752.43 1190.72,759.9 1191.9,766.3 C1193.08,772.7 1194,777.23 1195.05,782.3 C1196.1,787.37 1197.08,792.97 1198.2,796.7 C1199.31,800.43 1199.84,802.57 1201.74,804.7 C1203.64,806.83 1206.65,808.43 1209.61,809.5 C1212.56,810.57 1217.8,810.09 1219.44,811.1 C1221.08,812.11 1226,814.41 1219.44,815.58 C1212.88,816.75 1196.49,817.55 1180.1,818.14 C1163.71,818.73 1139.45,818.83 1121.09,819.1 C1102.73,819.37 1082.41,819.47 1069.95,819.74 C1057.49,820.01 1050.28,820.54 1046.34,820.7" fill="none" stroke="#ff0000" stroke-width="4.3" stroke-linejoin="round" stroke-linecap="round" clip-path="url(#cD)"/>
<path d="M818.17,820.7 C820.6,821.02 827.94,821.87 832.73,822.62 C837.51,823.37 842.96,823.79 846.89,825.18 C850.82,826.57 853.71,828.11 856.33,830.94 C858.95,833.77 860.79,837.93 862.63,842.14 C864.46,846.35 865.58,850.73 867.35,856.22 C869.12,861.71 871.22,867.9 873.25,875.1 C875.28,882.3 877.71,892.38 879.54,899.42 C881.38,906.46 881.9,908.49 884.26,917.34 C886.62,926.19 890.56,943.15 893.7,952.54 C896.85,961.93 900,969.39 903.15,973.66 C906.29,977.93 908.65,978.57 912.59,978.14 C916.52,977.71 921.31,975.79 926.75,971.1 C932.19,966.41 938.22,958.57 945.24,949.98 C952.26,941.39 961.04,930.51 968.84,919.58 C976.65,908.65 985.04,895.31 992.05,884.38 C999.07,873.45 1005.43,862.14 1010.94,853.98 C1016.45,845.82 1020.45,840.11 1025.1,835.42 C1029.76,830.73 1033.43,828.11 1038.87,825.82 C1044.31,823.53 1050.61,822.51 1057.75,821.66 C1064.9,820.81 1077.75,820.86 1081.75,820.7" fill="none" stroke="#ff0000" stroke-width="4.3" stroke-linejoin="round" stroke-linecap="round" clip-path="url(#cD)"/>
<path d="M1043.2,820.7 C1044.18,820.11 1046.21,820.97 1049.1,817.18 C1051.98,813.39 1056.71,804.74 1060.51,797.98 C1064.31,791.22 1068.03,784.69 1071.89,776.59 C1075.75,768.5 1079.81,758.08 1083.67,749.39 C1087.53,740.7 1091.26,732.49 1095.05,724.44 C1098.85,716.39 1102.64,708.24 1106.44,701.09 C1110.23,693.95 1114.02,687.41 1117.82,681.59 C1121.62,675.76 1125.35,670.58 1129.22,666.14 C1133.09,661.7 1137.15,658.09 1141.02,654.94 C1144.89,651.79 1148.63,649.18 1152.43,647.26 C1156.23,645.34 1160.69,643.42 1163.84,643.42 C1166.99,643.42 1169.06,644.17 1171.31,647.26 C1173.57,650.35 1175.69,655.37 1177.35,661.98 C1179.01,668.59 1180.17,677.98 1181.28,686.94 C1182.39,695.9 1183.25,706.14 1184.03,715.74 C1184.82,725.34 1185.35,734.99 1186,744.54 C1186.66,754.09 1187.31,765.07 1187.97,773.02 C1188.62,780.97 1189.21,787.42 1189.94,792.22 C1190.66,797.02 1190.92,798.3 1192.3,801.82 C1193.67,805.34 1195.31,810.94 1198.2,813.34 C1201.08,815.74 1206.06,815.58 1209.61,816.22 C1213.15,816.86 1224.36,816.75 1219.44,817.18 C1214.52,817.61 1196.49,818.41 1180.1,818.78 C1163.71,819.15 1139.45,819.21 1121.09,819.42 C1102.73,819.63 1082.41,819.85 1069.95,820.06 C1057.49,820.27 1050.28,820.59 1046.34,820.7" fill="none" stroke="#0000ff" stroke-width="4.3" stroke-linejoin="round" stroke-linecap="round" clip-path="url(#cD)"/>
<path d="M845.71,820.7 C847.32,821.02 851.91,821.55 855.35,822.62 C858.79,823.69 863.54,824.91 866.36,827.1 C869.18,829.29 870.82,832.43 872.26,835.74 C873.71,839.05 874.1,841.98 875.02,846.94 C875.94,851.9 876.66,857.71 877.77,865.5 C878.89,873.29 880.39,885.39 881.71,893.66 C883.02,901.93 884.2,907.26 885.64,915.1 C887.08,922.94 888.79,932.54 890.36,940.7 C891.93,948.86 893.11,958.41 895.08,964.06 C897.05,969.71 899.25,972.43 902.16,974.62 C905.08,976.81 908.49,977.77 912.59,977.18 C916.69,976.59 921.31,975.63 926.75,971.1 C932.19,966.57 938.22,958.57 945.24,949.98 C952.26,941.39 961.04,930.51 968.84,919.58 C976.65,908.65 985.04,895.31 992.05,884.38 C999.07,873.45 1005.43,862.14 1010.94,853.98 C1016.45,845.82 1020.45,840.11 1025.1,835.42 C1029.76,830.73 1033.43,828.11 1038.87,825.82 C1044.31,823.53 1050.61,822.51 1057.75,821.66 C1064.9,820.81 1077.75,820.86 1081.75,820.7" fill="none" stroke="#0000ff" stroke-width="4.3" stroke-linejoin="round" stroke-linecap="round" clip-path="url(#cD)"/>
<path d="M1043.2,820.7 C1044.18,820.11 1046.21,820.97 1049.1,817.18 C1051.98,813.39 1056.73,804.98 1060.51,797.98 C1064.29,790.98 1067.96,783.78 1071.78,775.15 C1075.59,766.53 1079.6,755.48 1083.41,746.23 C1087.22,736.97 1090.91,728.21 1094.66,719.61 C1098.4,711 1102.15,702.29 1105.9,694.59 C1109.65,686.89 1113.38,679.59 1117.15,673.41 C1120.92,667.23 1124.65,662.02 1128.51,657.5 C1132.37,652.98 1136.45,649.45 1140.31,646.3 C1144.18,643.15 1147.92,640.54 1151.72,638.62 C1155.53,636.7 1159.98,634.78 1163.13,634.78 C1166.28,634.78 1168.24,634.09 1170.61,638.62 C1172.98,643.15 1175.57,653.93 1177.35,661.98 C1179.13,670.03 1180.17,677.98 1181.28,686.94 C1182.39,695.9 1183.25,706.14 1184.03,715.74 C1184.82,725.34 1185.35,734.99 1186,744.54 C1186.66,754.09 1187.31,765.07 1187.97,773.02 C1188.62,780.97 1189.21,787.42 1189.94,792.22 C1190.66,797.02 1190.92,798.3 1192.3,801.82 C1193.67,805.34 1195.31,810.94 1198.2,813.34 C1201.08,815.74 1206.06,815.58 1209.61,816.22 C1213.15,816.86 1224.36,816.75 1219.44,817.18 C1214.52,817.61 1196.49,818.41 1180.1,818.78 C1163.71,819.15 1139.45,819.21 1121.09,819.42 C1102.73,819.63 1082.41,819.85 1069.95,820.06 C1057.49,820.27 1050.28,820.59 1046.34,820.7" fill="none" stroke="#ff00ff" stroke-width="4.3" stroke-linejoin="round" stroke-linecap="round" clip-path="url(#cD)"/>
<path d="M847.68,820.7 C849.32,821.02 854.04,821.55 857.51,822.62 C860.99,823.69 865.71,824.91 868.53,827.1 C871.35,829.29 872.99,832.43 874.43,835.74 C875.87,839.05 876.26,841.98 877.18,846.94 C878.1,851.9 878.82,857.71 879.94,865.5 C881.05,873.29 882.56,885.39 883.87,893.66 C885.18,901.93 886.36,907.26 887.8,915.1 C889.25,922.94 890.82,932.17 892.52,940.7 C894.23,949.23 896,959.9 898.03,966.3 C900.06,972.7 901.9,976.06 904.72,979.1 C907.54,982.14 911.67,984.27 914.95,984.54 C918.23,984.81 920.85,983.47 924.39,980.7 C927.93,977.93 932.26,972.7 936.19,967.9 C940.13,963.1 942.55,959.53 947.99,951.9 C953.44,944.27 961.5,933.07 968.84,922.14 C976.19,911.21 985.04,897.5 992.05,886.3 C999.07,875.1 1005.43,863.42 1010.94,854.94 C1016.45,846.46 1020.45,840.27 1025.1,835.42 C1029.76,830.57 1033.43,828.11 1038.87,825.82 C1044.31,823.53 1050.61,822.51 1057.75,821.66 C1064.9,820.81 1077.75,820.86 1081.75,820.7" fill="none" stroke="#ff00ff" stroke-width="4.3" stroke-linejoin="round" stroke-linecap="round" clip-path="url(#cD)"/>
<path d="M1043.2,820.7 C1044.18,820.11 1046.21,820.97 1049.1,817.18 C1051.98,813.39 1056.72,804.85 1060.51,797.98 C1064.3,791.11 1068,784.29 1071.84,775.95 C1075.68,767.62 1079.71,756.93 1083.55,747.99 C1087.39,739.04 1091.1,730.59 1094.88,722.29 C1098.65,714 1102.42,705.59 1106.2,698.2 C1109.97,690.81 1113.74,683.93 1117.52,677.95 C1121.31,671.97 1125.04,666.78 1128.91,662.3 C1132.77,657.82 1136.84,654.25 1140.71,651.1 C1144.58,647.95 1148.31,645.34 1152.12,643.42 C1155.92,641.5 1160.38,639.58 1163.52,639.58 C1166.67,639.58 1168.7,639.69 1171,643.42 C1173.3,647.15 1175.63,654.73 1177.35,661.98 C1179.06,669.23 1180.17,677.98 1181.28,686.94 C1182.39,695.9 1183.25,706.14 1184.03,715.74 C1184.82,725.34 1185.35,734.99 1186,744.54 C1186.66,754.09 1187.31,765.07 1187.97,773.02 C1188.62,780.97 1189.21,787.42 1189.94,792.22 C1190.66,797.02 1190.92,798.3 1192.3,801.82 C1193.67,805.34 1195.31,810.94 1198.2,813.34 C1201.08,815.74 1206.06,815.58 1209.61,816.22 C1213.15,816.86 1224.36,816.75 1219.44,817.18 C1214.52,817.61 1196.49,818.41 1180.1,818.78 C1163.71,819.15 1139.45,819.21 1121.09,819.42 C1102.73,819.63 1082.41,819.85 1069.95,820.06 C1057.49,820.27 1050.28,820.59 1046.34,820.7" fill="none" stroke="#007a00" stroke-width="4.3" stroke-linejoin="round" stroke-linecap="round" clip-path="url(#cD)"/>
<path d="M846.89,820.7 C848.53,821.02 853.25,821.55 856.73,822.62 C860.2,823.69 864.92,824.91 867.74,827.1 C870.56,829.29 872.2,832.43 873.64,835.74 C875.08,839.05 875.48,841.98 876.4,846.94 C877.31,851.9 878.03,857.71 879.15,865.5 C880.26,873.29 881.77,885.39 883.08,893.66 C884.39,901.93 885.57,907.26 887.02,915.1 C888.46,922.94 890.1,932.43 891.74,940.7 C893.38,948.97 894.82,958.67 896.85,964.7 C898.88,970.73 901.11,974.19 903.93,976.86 C906.75,979.53 910.36,980.81 913.77,980.7 C917.18,980.59 920.65,979.15 924.39,976.22 C928.13,973.29 932.26,967.69 936.19,963.1 C940.13,958.51 942.55,955.79 947.99,948.7 C953.44,941.61 961.5,931.1 968.84,920.54 C976.19,909.98 985.04,896.43 992.05,885.34 C999.07,874.25 1005.43,862.3 1010.94,853.98 C1016.45,845.66 1020.45,840.11 1025.1,835.42 C1029.76,830.73 1033.43,828.11 1038.87,825.82 C1044.31,823.53 1050.61,822.51 1057.75,821.66 C1064.9,820.81 1077.75,820.86 1081.75,820.7" fill="none" stroke="#007a00" stroke-width="4.3" stroke-linejoin="round" stroke-linecap="round" clip-path="url(#cD)"/>
<path d="M1043.2,820.7 C1044.18,820.11 1046.21,820.97 1049.1,817.18 C1051.98,813.39 1056.7,804.7 1060.51,797.98 C1064.31,791.26 1068.05,784.86 1071.91,776.86 C1075.78,768.86 1079.85,758.57 1083.72,749.98 C1087.59,741.39 1091.32,733.29 1095.13,725.34 C1098.93,717.39 1102.73,709.34 1106.53,702.3 C1110.34,695.26 1114.14,688.86 1117.94,683.1 C1121.75,677.34 1125.48,672.17 1129.35,667.74 C1133.22,663.31 1137.28,659.69 1141.15,656.54 C1145.02,653.39 1148.76,650.78 1152.56,648.86 C1156.36,646.94 1160.82,645.02 1163.97,645.02 C1167.12,645.02 1169.22,646.03 1171.45,648.86 C1173.67,651.69 1175.71,655.63 1177.35,661.98 C1178.99,668.33 1180.17,677.98 1181.28,686.94 C1182.39,695.9 1183.25,706.14 1184.03,715.74 C1184.82,725.34 1185.35,734.99 1186,744.54 C1186.66,754.09 1187.31,765.07 1187.97,773.02 C1188.62,780.97 1189.21,787.42 1189.94,792.22 C1190.66,797.02 1190.92,798.3 1192.3,801.82 C1193.67,805.34 1195.31,810.94 1198.2,813.34 C1201.08,815.74 1206.06,815.58 1209.61,816.22 C1213.15,816.86 1224.36,816.75 1219.44,817.18 C1214.52,817.61 1196.49,818.41 1180.1,818.78 C1163.71,819.15 1139.45,819.21 1121.09,819.42 C1102.73,819.63 1082.41,819.85 1069.95,820.06 C1057.49,820.27 1050.28,820.59 1046.34,820.7" fill="none" stroke="#00007f" stroke-width="4.3" stroke-linejoin="round" stroke-linecap="round" clip-path="url(#cD)"/>
<path d="M845.71,820.7 C847.58,821.02 853.22,821.55 856.92,822.62 C860.63,823.69 865.12,824.91 867.94,827.1 C870.76,829.29 872.4,832.43 873.84,835.74 C875.28,839.05 875.67,841.98 876.59,846.94 C877.51,851.9 878.23,857.71 879.35,865.5 C880.46,873.29 881.97,885.39 883.28,893.66 C884.59,901.93 885.77,907.26 887.21,915.1 C888.66,922.94 890.36,932.54 891.93,940.7 C893.51,948.86 894.69,958.41 896.66,964.06 C898.62,969.71 901.08,972.43 903.74,974.62 C906.39,976.81 908.75,977.77 912.59,977.18 C916.42,976.59 921.31,975.63 926.75,971.1 C932.19,966.57 938.22,958.57 945.24,949.98 C952.26,941.39 961.04,930.51 968.84,919.58 C976.65,908.65 985.04,895.31 992.05,884.38 C999.07,873.45 1005.43,862.14 1010.94,853.98 C1016.45,845.82 1020.45,840.11 1025.1,835.42 C1029.76,830.73 1033.43,828.11 1038.87,825.82 C1044.31,823.53 1050.61,822.51 1057.75,821.66 C1064.9,820.81 1077.75,820.86 1081.75,820.7" fill="none" stroke="#00007f" stroke-width="4.3" stroke-linejoin="round" stroke-linecap="round" clip-path="url(#cD)"/>
<line x1="767.5" y1="820.7" x2="1219.44" y2="820.7" stroke="#00007f" stroke-width="4.8" stroke-linecap="butt"/>
<rect x="767.5" y="612.9" width="491.25" height="399.7" fill="none" stroke="#333333" stroke-width="2.2"/>
<line x1="786.7" y1="1012.6" x2="786.7" y2="1020.7" stroke="#333333" stroke-width="2.2" stroke-linecap="butt"/>
<line x1="826.04" y1="1012.6" x2="826.04" y2="1017.7" stroke="#333333" stroke-width="2.2" stroke-linecap="butt"/>
<line x1="865.38" y1="1012.6" x2="865.38" y2="1020.7" stroke="#333333" stroke-width="2.2" stroke-linecap="butt"/>
<line x1="904.72" y1="1012.6" x2="904.72" y2="1017.7" stroke="#333333" stroke-width="2.2" stroke-linecap="butt"/>
<line x1="944.06" y1="1012.6" x2="944.06" y2="1020.7" stroke="#333333" stroke-width="2.2" stroke-linecap="butt"/>
<line x1="983.4" y1="1012.6" x2="983.4" y2="1017.7" stroke="#333333" stroke-width="2.2" stroke-linecap="butt"/>
<line x1="1022.74" y1="1012.6" x2="1022.74" y2="1020.7" stroke="#333333" stroke-width="2.2" stroke-linecap="butt"/>
<line x1="1062.08" y1="1012.6" x2="1062.08" y2="1017.7" stroke="#333333" stroke-width="2.2" stroke-linecap="butt"/>
<line x1="1101.42" y1="1012.6" x2="1101.42" y2="1020.7" stroke="#333333" stroke-width="2.2" stroke-linecap="butt"/>
<line x1="1140.76" y1="1012.6" x2="1140.76" y2="1017.7" stroke="#333333" stroke-width="2.2" stroke-linecap="butt"/>
<line x1="1180.1" y1="1012.6" x2="1180.1" y2="1020.7" stroke="#333333" stroke-width="2.2" stroke-linecap="butt"/>
<line x1="1219.44" y1="1012.6" x2="1219.44" y2="1017.7" stroke="#333333" stroke-width="2.2" stroke-linecap="butt"/>
<line x1="1258.78" y1="1012.6" x2="1258.78" y2="1020.7" stroke="#333333" stroke-width="2.2" stroke-linecap="butt"/>
<line x1="759.4" y1="1012.7" x2="767.5" y2="1012.7" stroke="#333333" stroke-width="2.2" stroke-linecap="butt"/>
<line x1="762.4" y1="980.7" x2="767.5" y2="980.7" stroke="#333333" stroke-width="2.2" stroke-linecap="butt"/>
<line x1="759.4" y1="948.7" x2="767.5" y2="948.7" stroke="#333333" stroke-width="2.2" stroke-linecap="butt"/>
<line x1="762.4" y1="916.7" x2="767.5" y2="916.7" stroke="#333333" stroke-width="2.2" stroke-linecap="butt"/>
<line x1="759.4" y1="884.7" x2="767.5" y2="884.7" stroke="#333333" stroke-width="2.2" stroke-linecap="butt"/>
<line x1="762.4" y1="852.7" x2="767.5" y2="852.7" stroke="#333333" stroke-width="2.2" stroke-linecap="butt"/>
<line x1="759.4" y1="820.7" x2="767.5" y2="820.7" stroke="#333333" stroke-width="2.2" stroke-linecap="butt"/>
<line x1="762.4" y1="788.7" x2="767.5" y2="788.7" stroke="#333333" stroke-width="2.2" stroke-linecap="butt"/>
<line x1="759.4" y1="756.7" x2="767.5" y2="756.7" stroke="#333333" stroke-width="2.2" stroke-linecap="butt"/>
<line x1="762.4" y1="724.7" x2="767.5" y2="724.7" stroke="#333333" stroke-width="2.2" stroke-linecap="butt"/>
<line x1="759.4" y1="692.7" x2="767.5" y2="692.7" stroke="#333333" stroke-width="2.2" stroke-linecap="butt"/>
<line x1="762.4" y1="660.7" x2="767.5" y2="660.7" stroke="#333333" stroke-width="2.2" stroke-linecap="butt"/>
<line x1="759.4" y1="628.7" x2="767.5" y2="628.7" stroke="#333333" stroke-width="2.2" stroke-linecap="butt"/>
<g fill="none" stroke="#505050" stroke-width="1.6">
<path d="M320.2,83 H345.5 M383.1,83 H403.8 M403.8,54.1 V109.4 M403.8,54.1 H451.8 M460.7,54.1 H530.4 V109.4 M403.8,109.4 H421.7 M460.3,109.4 H484.7 M502,109.4 H530.4 M530.4,83 H559.9"/>
<rect x="345.5" y="73.8" width="37.6" height="18.9"/>
<rect x="421.7" y="101.3" width="38.6" height="18.7"/>
<path d="M451.8,45.4 V62.7 M460.7,45.4 V62.7"/>
<path d="M484.7,109.4 L485.9,104.6 L489.9,118.3 L493.4,105.3 L497.0,118.3 L500.8,104.6 L502,109.4" stroke-linejoin="miter"/>
</g>
<line x1="145.8" y1="154.2" x2="184.2" y2="154.2" stroke="#000000" stroke-width="3.8" stroke-linecap="round"/>
<rect x="160.2" y="149.7" width="9" height="9" fill="#000000"/>
<line x1="145.8" y1="193.3" x2="184.2" y2="193.3" stroke="#ff0000" stroke-width="3.8" stroke-linecap="round"/>
<circle cx="164.7" cy="193.3" r="4.73" fill="#ff0000"/>
<line x1="145.8" y1="231.6" x2="184.2" y2="231.6" stroke="#0000ff" stroke-width="3.8" stroke-linecap="round"/>
<polygon points="164.7,225.4 158.81,235.01 170.59,235.01" fill="#0000ff"/>
<line x1="145.8" y1="270.3" x2="184.2" y2="270.3" stroke="#ff00ff" stroke-width="3.8" stroke-linecap="round"/>
<polygon points="164.7,276.5 158.81,266.89 170.59,266.89" fill="#ff00ff"/>
<line x1="784.2" y1="108.9" x2="830.4" y2="108.9" stroke="#000000" stroke-width="3.8" stroke-linecap="round"/>
<rect x="802.4" y="104.4" width="9" height="9" fill="#000000"/>
<line x1="784.2" y1="154" x2="830.4" y2="154" stroke="#ff0000" stroke-width="3.8" stroke-linecap="round"/>
<circle cx="806.9" cy="154" r="4.73" fill="#ff0000"/>
<line x1="784.2" y1="199.9" x2="830.4" y2="199.9" stroke="#0000ff" stroke-width="3.8" stroke-linecap="round"/>
<polygon points="806.9,193.7 801.01,203.31 812.79,203.31" fill="#0000ff"/>
<line x1="784.2" y1="245" x2="830.4" y2="245" stroke="#ff00ff" stroke-width="3.8" stroke-linecap="round"/>
<polygon points="806.9,251.2 801.01,241.59 812.79,241.59" fill="#ff00ff"/>
<line x1="784.2" y1="290.7" x2="830.4" y2="290.7" stroke="#007a00" stroke-width="3.8" stroke-linecap="round"/>
<polygon points="806.9,284.5 813.1,290.7 806.9,296.9 800.7,290.7" fill="#007a00"/>
<line x1="145.5" y1="631.5" x2="182.9" y2="631.5" stroke="#000000" stroke-width="4.6" stroke-linecap="round"/>
<line x1="145.5" y1="663.1" x2="182.9" y2="663.1" stroke="#ff0000" stroke-width="4.6" stroke-linecap="round"/>
<line x1="145.5" y1="694.7" x2="182.9" y2="694.7" stroke="#0000ff" stroke-width="4.6" stroke-linecap="round"/>
<line x1="145.5" y1="726.3" x2="182.9" y2="726.3" stroke="#ff00ff" stroke-width="4.6" stroke-linecap="round"/>
<line x1="145.5" y1="757.9" x2="182.9" y2="757.9" stroke="#007a00" stroke-width="4.6" stroke-linecap="round"/>
<line x1="145.5" y1="789.5" x2="182.9" y2="789.5" stroke="#00007f" stroke-width="4.6" stroke-linecap="round"/>
<line x1="780.6" y1="636.5" x2="818.5" y2="636.5" stroke="#000000" stroke-width="4.6" stroke-linecap="round"/>
<line x1="780.6" y1="667.5" x2="818.5" y2="667.5" stroke="#ff0000" stroke-width="4.6" stroke-linecap="round"/>
<line x1="780.6" y1="698.9" x2="818.5" y2="698.9" stroke="#0000ff" stroke-width="4.6" stroke-linecap="round"/>
<line x1="780.6" y1="730.3" x2="818.5" y2="730.3" stroke="#ff00ff" stroke-width="4.6" stroke-linecap="round"/>
<line x1="780.6" y1="760.9" x2="818.5" y2="760.9" stroke="#007a00" stroke-width="4.6" stroke-linecap="round"/>
<line x1="780.6" y1="792.3" x2="818.5" y2="792.3" stroke="#00007f" stroke-width="4.6" stroke-linecap="round"/>
<text x="110.7" y="487" font-size="28" font-weight="bold" font-family="Liberation Sans" fill="#000" textLength="18.69" lengthAdjust="spacingAndGlyphs">0</text>
<text x="135.4" y="518.5" font-size="28" font-weight="bold" font-family="Liberation Sans" fill="#000" textLength="18.69" lengthAdjust="spacingAndGlyphs">0</text>
<text x="92.84" y="393.75" font-size="28" font-weight="bold" font-family="Liberation Sans" fill="#000" textLength="35.99" lengthAdjust="spacingAndGlyphs">20</text>
<text x="220.49" y="518.5" font-size="28" font-weight="bold" font-family="Liberation Sans" fill="#000" textLength="35.99" lengthAdjust="spacingAndGlyphs">20</text>
<text x="94" y="300.5" font-size="28" font-weight="bold" font-family="Liberation Sans" fill="#000" textLength="34.79" lengthAdjust="spacingAndGlyphs">40</text>
<text x="315.65" y="518.5" font-size="28" font-weight="bold" font-family="Liberation Sans" fill="#000" textLength="34.79" lengthAdjust="spacingAndGlyphs">40</text>
<text x="92.84" y="207.25" font-size="28" font-weight="bold" font-family="Liberation Sans" fill="#000" textLength="35.99" lengthAdjust="spacingAndGlyphs">60</text>
<text x="408.49" y="518.5" font-size="28" font-weight="bold" font-family="Liberation Sans" fill="#000" textLength="35.99" lengthAdjust="spacingAndGlyphs">60</text>
<text x="92.84" y="114" font-size="28" font-weight="bold" font-family="Liberation Sans" fill="#000" textLength="35.99" lengthAdjust="spacingAndGlyphs">80</text>
<text x="502.49" y="518.5" font-size="28" font-weight="bold" font-family="Liberation Sans" fill="#000" textLength="35.99" lengthAdjust="spacingAndGlyphs">80</text>
<text x="75.23" y="20.75" font-size="28" font-weight="bold" font-family="Liberation Sans" fill="#000" textLength="53.09" lengthAdjust="spacingAndGlyphs">100</text>
<text x="587.13" y="518.5" font-size="28" font-weight="bold" font-family="Liberation Sans" fill="#000" textLength="53.09" lengthAdjust="spacingAndGlyphs">100</text>
<text x="742.7" y="487" font-size="28" font-weight="bold" font-family="Liberation Sans" fill="#000" textLength="18.69" lengthAdjust="spacingAndGlyphs">0</text>
<text x="768.5" y="518.5" font-size="28" font-weight="bold" font-family="Liberation Sans" fill="#000" textLength="18.69" lengthAdjust="spacingAndGlyphs">0</text>
<text x="724.84" y="393.75" font-size="28" font-weight="bold" font-family="Liberation Sans" fill="#000" textLength="35.99" lengthAdjust="spacingAndGlyphs">20</text>
<text x="853.59" y="518.5" font-size="28" font-weight="bold" font-family="Liberation Sans" fill="#000" textLength="35.99" lengthAdjust="spacingAndGlyphs">20</text>
<text x="726" y="300.5" font-size="28" font-weight="bold" font-family="Liberation Sans" fill="#000" textLength="34.79" lengthAdjust="spacingAndGlyphs">40</text>
<text x="948.75" y="518.5" font-size="28" font-weight="bold" font-family="Liberation Sans" fill="#000" textLength="34.79" lengthAdjust="spacingAndGlyphs">40</text>
<text x="724.84" y="207.25" font-size="28" font-weight="bold" font-family="Liberation Sans" fill="#000" textLength="35.99" lengthAdjust="spacingAndGlyphs">60</text>
<text x="1041.59" y="518.5" font-size="28" font-weight="bold" font-family="Liberation Sans" fill="#000" textLength="35.99" lengthAdjust="spacingAndGlyphs">60</text>
<text x="724.84" y="114" font-size="28" font-weight="bold" font-family="Liberation Sans" fill="#000" textLength="35.99" lengthAdjust="spacingAndGlyphs">80</text>
<text x="1135.59" y="518.5" font-size="28" font-weight="bold" font-family="Liberation Sans" fill="#000" textLength="35.99" lengthAdjust="spacingAndGlyphs">80</text>
<text x="707.23" y="20.75" font-size="28" font-weight="bold" font-family="Liberation Sans" fill="#000" textLength="53.09" lengthAdjust="spacingAndGlyphs">100</text>
<text x="1220.23" y="518.5" font-size="28" font-weight="bold" font-family="Liberation Sans" fill="#000" textLength="53.09" lengthAdjust="spacingAndGlyphs">100</text>
<text x="134.3" y="1047.5" font-size="29.5" font-weight="bold" font-family="Liberation Sans" fill="#000" textLength="41.02" lengthAdjust="spacingAndGlyphs">2.8</text>
<text x="214.02" y="1047.5" font-size="29.5" font-weight="bold" font-family="Liberation Sans" fill="#000" textLength="41.02" lengthAdjust="spacingAndGlyphs">3.0</text>
<text x="293.74" y="1047.5" font-size="29.5" font-weight="bold" font-family="Liberation Sans" fill="#000" textLength="41.02" lengthAdjust="spacingAndGlyphs">3.2</text>
<text x="373.49" y="1047.5" font-size="29.5" font-weight="bold" font-family="Liberation Sans" fill="#000" textLength="39.99" lengthAdjust="spacingAndGlyphs">3.4</text>
<text x="453.18" y="1047.5" font-size="29.5" font-weight="bold" font-family="Liberation Sans" fill="#000" textLength="41.02" lengthAdjust="spacingAndGlyphs">3.6</text>
<text x="532.9" y="1047.5" font-size="29.5" font-weight="bold" font-family="Liberation Sans" fill="#000" textLength="41.02" lengthAdjust="spacingAndGlyphs">3.8</text>
<text x="613.62" y="1047.5" font-size="29.5" font-weight="bold" font-family="Liberation Sans" fill="#000" textLength="39.99" lengthAdjust="spacingAndGlyphs">4.0</text>
<text x="97.16" y="999.5" font-size="29.5" font-weight="bold" font-family="Liberation Sans" fill="#000" textLength="24.66" lengthAdjust="spacingAndGlyphs">-4</text>
<text x="97.12" y="914.3" font-size="29.5" font-weight="bold" font-family="Liberation Sans" fill="#000" textLength="25.69" lengthAdjust="spacingAndGlyphs">-2</text>
<text x="106.06" y="829.1" font-size="29.5" font-weight="bold" font-family="Liberation Sans" fill="#000" textLength="17.01" lengthAdjust="spacingAndGlyphs">0</text>
<text x="106.06" y="743.9" font-size="29.5" font-weight="bold" font-family="Liberation Sans" fill="#000" textLength="17.01" lengthAdjust="spacingAndGlyphs">2</text>
<text x="107.1" y="658.7" font-size="29.5" font-weight="bold" font-family="Liberation Sans" fill="#000" textLength="14.88" lengthAdjust="spacingAndGlyphs">4</text>
<text x="766.2" y="1047.5" font-size="29.5" font-weight="bold" font-family="Liberation Sans" fill="#000" textLength="41.02" lengthAdjust="spacingAndGlyphs">2.8</text>
<text x="844.88" y="1047.5" font-size="29.5" font-weight="bold" font-family="Liberation Sans" fill="#000" textLength="41.02" lengthAdjust="spacingAndGlyphs">3.0</text>
<text x="923.56" y="1047.5" font-size="29.5" font-weight="bold" font-family="Liberation Sans" fill="#000" textLength="41.02" lengthAdjust="spacingAndGlyphs">3.2</text>
<text x="1002.26" y="1047.5" font-size="29.5" font-weight="bold" font-family="Liberation Sans" fill="#000" textLength="39.99" lengthAdjust="spacingAndGlyphs">3.4</text>
<text x="1080.92" y="1047.5" font-size="29.5" font-weight="bold" font-family="Liberation Sans" fill="#000" textLength="41.02" lengthAdjust="spacingAndGlyphs">3.6</text>
<text x="1159.6" y="1047.5" font-size="29.5" font-weight="bold" font-family="Liberation Sans" fill="#000" textLength="41.02" lengthAdjust="spacingAndGlyphs">3.8</text>
<text x="1239.28" y="1047.5" font-size="29.5" font-weight="bold" font-family="Liberation Sans" fill="#000" textLength="39.99" lengthAdjust="spacingAndGlyphs">4.0</text>
<text x="729.52" y="1021.2" font-size="29.5" font-weight="bold" font-family="Liberation Sans" fill="#000" textLength="25.69" lengthAdjust="spacingAndGlyphs">-6</text>
<text x="729.56" y="957.2" font-size="29.5" font-weight="bold" font-family="Liberation Sans" fill="#000" textLength="24.66" lengthAdjust="spacingAndGlyphs">-4</text>
<text x="729.52" y="893.2" font-size="29.5" font-weight="bold" font-family="Liberation Sans" fill="#000" textLength="25.69" lengthAdjust="spacingAndGlyphs">-2</text>
<text x="738.46" y="829.2" font-size="29.5" font-weight="bold" font-family="Liberation Sans" fill="#000" textLength="17.01" lengthAdjust="spacingAndGlyphs">0</text>
<text x="738.46" y="765.2" font-size="29.5" font-weight="bold" font-family="Liberation Sans" fill="#000" textLength="17.01" lengthAdjust="spacingAndGlyphs">2</text>
<text x="739.5" y="701.2" font-size="29.5" font-weight="bold" font-family="Liberation Sans" fill="#000" textLength="14.88" lengthAdjust="spacingAndGlyphs">4</text>
<text x="738.46" y="637.2" font-size="29.5" font-weight="bold" font-family="Liberation Sans" fill="#000" textLength="17.01" lengthAdjust="spacingAndGlyphs">6</text>
<text x="357.69" y="88" font-size="15.5" font-weight="normal" font-family="Liberation Sans" fill="#4a4a4a" textLength="13.57" lengthAdjust="spacingAndGlyphs">R</text>
<text x="370.25" y="90" font-size="11" font-weight="normal" font-family="Liberation Sans" fill="#4a4a4a" textLength="5.82" lengthAdjust="spacingAndGlyphs">1</text>
<text x="433.88" y="115.3" font-size="15.5" font-weight="normal" font-family="Liberation Sans" fill="#4a4a4a" textLength="12.57" lengthAdjust="spacingAndGlyphs">R</text>
<text x="444.5" y="118.2" font-size="11" font-weight="normal" font-family="Liberation Sans" fill="#4a4a4a" textLength="7.96" lengthAdjust="spacingAndGlyphs">2</text>
<text x="452.32" y="42" font-size="17" font-weight="normal" font-family="Liberation Sans" fill="#4a4a4a" textLength="13.26" lengthAdjust="spacingAndGlyphs">C</text>
<text x="463.18" y="43.2" font-size="11" font-weight="normal" font-family="Liberation Sans" fill="#4a4a4a" textLength="8.73" lengthAdjust="spacingAndGlyphs">2</text>
<text x="486.8" y="97" font-size="16" font-weight="normal" font-family="Liberation Sans" fill="#4a4a4a" textLength="15.11" lengthAdjust="spacingAndGlyphs">W</text>
<text x="501" y="98" font-size="11" font-weight="normal" font-family="Liberation Sans" fill="#4a4a4a" textLength="7.35" lengthAdjust="spacingAndGlyphs">2</text>
<text x="192.78" y="159.7" font-size="26" font-weight="bold" font-family="Liberation Sans" fill="#000" textLength="102.33" lengthAdjust="spacingAndGlyphs">Cycle 1</text>
<text x="192.77" y="198.75" font-size="26" font-weight="bold" font-family="Liberation Sans" fill="#000" textLength="103.15" lengthAdjust="spacingAndGlyphs">Cycle 5</text>
<text x="201.35" y="237.8" font-size="26" font-weight="bold" font-family="Liberation Sans" fill="#000" textLength="121.67" lengthAdjust="spacingAndGlyphs">Cycle 10</text>
<text x="201.36" y="276.1" font-size="26" font-weight="bold" font-family="Liberation Sans" fill="#000" textLength="120.5" lengthAdjust="spacingAndGlyphs">Cycle 15</text>
<text x="839.42" y="115.7" font-size="26" font-weight="bold" font-family="Liberation Sans" fill="#000" textLength="98.55" lengthAdjust="spacingAndGlyphs">Cycle 1</text>
<text x="839.4" y="160.8" font-size="26" font-weight="bold" font-family="Liberation Sans" fill="#000" textLength="99.98" lengthAdjust="spacingAndGlyphs">Cycle 5</text>
<text x="848.19" y="206.7" font-size="26" font-weight="bold" font-family="Liberation Sans" fill="#000" textLength="117.62" lengthAdjust="spacingAndGlyphs">Cycle 10</text>
<text x="848.2" y="251.8" font-size="26" font-weight="bold" font-family="Liberation Sans" fill="#000" textLength="116.49" lengthAdjust="spacingAndGlyphs">Cycle 15</text>
<text x="848.19" y="297.5" font-size="26" font-weight="bold" font-family="Liberation Sans" fill="#000" textLength="117.62" lengthAdjust="spacingAndGlyphs">Cycle 20</text>
<text x="191.36" y="637.3" font-size="23" font-weight="bold" font-family="Liberation Sans" fill="#000" textLength="84.03" lengthAdjust="spacingAndGlyphs">Cycle 1</text>
<text x="191.34" y="668.9" font-size="23" font-weight="bold" font-family="Liberation Sans" fill="#000" textLength="85.56" lengthAdjust="spacingAndGlyphs">Cycle 2</text>
<text x="191.34" y="700.5" font-size="23" font-weight="bold" font-family="Liberation Sans" fill="#000" textLength="85.56" lengthAdjust="spacingAndGlyphs">Cycle 3</text>
<text x="191.35" y="732.1" font-size="23" font-weight="bold" font-family="Liberation Sans" fill="#000" textLength="84.49" lengthAdjust="spacingAndGlyphs">Cycle 4</text>
<text x="191.34" y="763.7" font-size="23" font-weight="bold" font-family="Liberation Sans" fill="#000" textLength="85.56" lengthAdjust="spacingAndGlyphs">Cycle 5</text>
<text x="191.34" y="795.3" font-size="23" font-weight="bold" font-family="Liberation Sans" fill="#000" textLength="85.56" lengthAdjust="spacingAndGlyphs">Cycle 6</text>
<text x="826.16" y="642.4" font-size="23" font-weight="bold" font-family="Liberation Sans" fill="#000" textLength="83.72" lengthAdjust="spacingAndGlyphs">Cycle 1</text>
<text x="826.14" y="673.4" font-size="23" font-weight="bold" font-family="Liberation Sans" fill="#000" textLength="85.25" lengthAdjust="spacingAndGlyphs">Cycle 2</text>
<text x="826.14" y="704.8" font-size="23" font-weight="bold" font-family="Liberation Sans" fill="#000" textLength="85.25" lengthAdjust="spacingAndGlyphs">Cycle 3</text>
<text x="826.16" y="736.2" font-size="23" font-weight="bold" font-family="Liberation Sans" fill="#000" textLength="84.19" lengthAdjust="spacingAndGlyphs">Cycle 4</text>
<text x="826.14" y="766.8" font-size="23" font-weight="bold" font-family="Liberation Sans" fill="#000" textLength="85.25" lengthAdjust="spacingAndGlyphs">Cycle 5</text>
<text x="826.14" y="798.2" font-size="23" font-weight="bold" font-family="Liberation Sans" fill="#000" textLength="85.25" lengthAdjust="spacingAndGlyphs">Cycle 6</text>
<text x="-2.79" y="56" font-size="50" font-weight="bold" font-family="Liberation Sans" fill="#000" textLength="22.42" lengthAdjust="spacingAndGlyphs">(</text>
<text x="20.53" y="56" font-size="50" font-weight="bold" font-family="Liberation Sans" fill="#000" textLength="27.38" lengthAdjust="spacingAndGlyphs">a</text>
<text x="53.1" y="56" font-size="50" font-weight="bold" font-family="Liberation Sans" fill="#000" textLength="21.59" lengthAdjust="spacingAndGlyphs">)</text>
<text x="658.42" y="55.5" font-size="50" font-weight="bold" font-family="Liberation Sans" fill="#000" textLength="19.86" lengthAdjust="spacingAndGlyphs">(</text>
<text x="682.44" y="55.5" font-size="50" font-weight="bold" font-family="Liberation Sans" fill="#000" textLength="32.14" lengthAdjust="spacingAndGlyphs">b</text>
<text x="715" y="55.5" font-size="50" font-weight="bold" font-family="Liberation Sans" fill="#000" textLength="21.53" lengthAdjust="spacingAndGlyphs">)</text>
<text x="-1.54" y="622" font-size="50" font-weight="bold" font-family="Liberation Sans" fill="#000" textLength="22.42" lengthAdjust="spacingAndGlyphs">(</text>
<text x="22.42" y="622" font-size="50" font-weight="bold" font-family="Liberation Sans" fill="#000" textLength="27.46" lengthAdjust="spacingAndGlyphs">c</text>
<text x="51.25" y="622" font-size="50" font-weight="bold" font-family="Liberation Sans" fill="#000" textLength="21.59" lengthAdjust="spacingAndGlyphs">)</text>
<text x="645.22" y="622" font-size="50" font-weight="bold" font-family="Liberation Sans" fill="#000" textLength="23.19" lengthAdjust="spacingAndGlyphs">(</text>
<text x="669.1" y="622" font-size="50" font-weight="bold" font-family="Liberation Sans" fill="#000" textLength="32.81" lengthAdjust="spacingAndGlyphs">d</text>
<text x="702.5" y="622" font-size="50" font-weight="bold" font-family="Liberation Sans" fill="#000" textLength="22.31" lengthAdjust="spacingAndGlyphs">)</text>
<g transform="translate(79.1 350.5) rotate(-90)"><text x="-1.26" y="0" font-size="28" font-weight="bold" font-family="Liberation Sans" fill="#000" textLength="174.38" lengthAdjust="spacingAndGlyphs">-Im(Z")/(<tspan font-family="Liberation Serif" font-weight="normal">&#937;</tspan>)</text></g>
<g transform="translate(711.1 352.6) rotate(-90)"><text x="-1.28" y="0" font-size="28" font-weight="bold" font-family="Liberation Sans" fill="#000" textLength="177.53" lengthAdjust="spacingAndGlyphs">-Im(Z")/(<tspan font-family="Liberation Serif" font-weight="normal">&#937;</tspan>)</text></g>
<text x="293.18" y="553.1" font-size="28" font-weight="bold" font-family="Liberation Sans" fill="#000" textLength="132.88" lengthAdjust="spacingAndGlyphs">R(Z')/(<tspan font-family="Liberation Serif" font-weight="normal">&#937;</tspan>)</text>
<text x="911.17" y="553.1" font-size="28" font-weight="bold" font-family="Liberation Sans" fill="#000" textLength="133.49" lengthAdjust="spacingAndGlyphs">R(Z')/(<tspan font-family="Liberation Serif" font-weight="normal">&#937;</tspan>)</text>
<g transform="translate(90.8 926) rotate(-90)"><text x="-1.01" y="0" font-size="30.5" font-weight="bold" font-family="Liberation Sans" fill="#000" textLength="189.11" lengthAdjust="spacingAndGlyphs">Current (mA)</text></g>
<g transform="translate(719.6 927.3) rotate(-90)"><text x="-0.98" y="0" font-size="30.5" font-weight="bold" font-family="Liberation Sans" fill="#000" textLength="185.26" lengthAdjust="spacingAndGlyphs">Current (mA)</text></g>
<text x="280.9" y="1085.2" font-size="29" font-weight="bold" font-family="Liberation Sans" fill="#000" textLength="115.33" lengthAdjust="spacingAndGlyphs">Voltage,</text>
<text x="405.08" y="1085.2" font-size="29" font-weight="bold" font-family="Liberation Sans" fill="#000" textLength="24.73" lengthAdjust="spacingAndGlyphs">Li</text>
<text x="430.68" y="1073.6" font-size="34" font-weight="normal" font-family="Liberation Sans" fill="#000" textLength="21.1" lengthAdjust="spacingAndGlyphs" stroke="#000" stroke-width="0.8">+</text>
<text x="454.5" y="1085.2" font-size="29" font-weight="bold" font-family="Liberation Sans" fill="#000" textLength="39.03" lengthAdjust="spacingAndGlyphs">/Li</text>
<text x="500.9" y="1084.7" font-size="27" font-weight="bold" font-family="Liberation Sans" fill="#000" textLength="39.71" lengthAdjust="spacingAndGlyphs">(V)</text>
<text x="885" y="1088.5" font-size="29" font-weight="bold" font-family="Liberation Sans" fill="#000" textLength="114.21" lengthAdjust="spacingAndGlyphs">Voltage,</text>
<text x="1007.53" y="1088.5" font-size="29" font-weight="bold" font-family="Liberation Sans" fill="#000" textLength="24.14" lengthAdjust="spacingAndGlyphs">Li</text>
<text x="1032.89" y="1076.9" font-size="34" font-weight="normal" font-family="Liberation Sans" fill="#000" textLength="20.98" lengthAdjust="spacingAndGlyphs" stroke="#000" stroke-width="0.8">+</text>
<text x="1056.9" y="1088.5" font-size="29" font-weight="bold" font-family="Liberation Sans" fill="#000" textLength="38.97" lengthAdjust="spacingAndGlyphs">/Li</text>
<text x="1102" y="1088" font-size="27" font-weight="bold" font-family="Liberation Sans" fill="#000" textLength="39.71" lengthAdjust="spacingAndGlyphs">(V)</text>
<text x="146.33" y="44.5" font-size="30.5" font-weight="bold" font-family="Liberation Sans" fill="#e8121b" textLength="80.45" lengthAdjust="spacingAndGlyphs">3TFSI</text>
<text x="777.82" y="54" font-size="28.5" font-weight="bold" font-family="Liberation Sans" fill="#e8121b" textLength="152.1" lengthAdjust="spacingAndGlyphs">2FSI+1TFSI</text>
<text x="465.82" y="972" font-size="31" font-weight="bold" font-family="Liberation Sans" fill="#e8121b" textLength="82.74" lengthAdjust="spacingAndGlyphs">3TFSI</text>
<text x="1086.36" y="994.5" font-size="29.5" font-weight="bold" font-family="Liberation Sans" fill="#e8121b" textLength="166.78" lengthAdjust="spacingAndGlyphs">2FSI+1TFSI</text>
</g>
</svg>
</body></html>
